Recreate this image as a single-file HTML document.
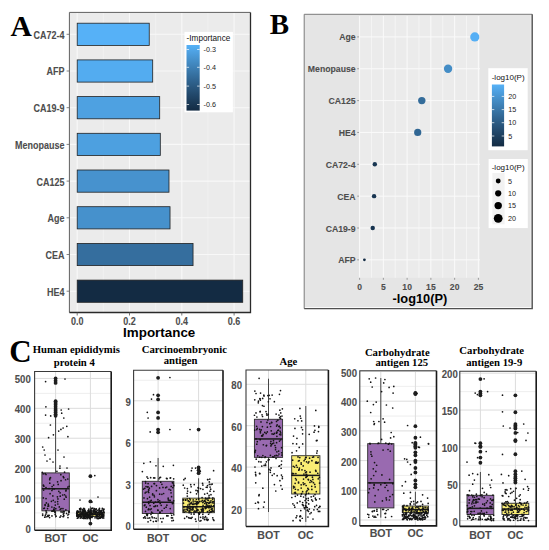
<!DOCTYPE html>
<html><head><meta charset="utf-8"><style>
html,body{margin:0;padding:0;background:#fff;width:549px;height:550px;overflow:hidden}
svg{display:block}
</style></head><body>
<svg width="549" height="550" viewBox="0 0 549 550">
<rect x="69.4" y="12.4" width="181.1" height="300.1" fill="#ebebeb" stroke="none" stroke-width="0" />
<line x1="103.35" y1="12.4" x2="103.35" y2="312.5" stroke="#f2f2f2" stroke-width="0.7"/>
<line x1="155.65" y1="12.4" x2="155.65" y2="312.5" stroke="#f2f2f2" stroke-width="0.7"/>
<line x1="207.95" y1="12.4" x2="207.95" y2="312.5" stroke="#f2f2f2" stroke-width="0.7"/>
<line x1="77.2" y1="12.4" x2="77.2" y2="312.5" stroke="#f8f8f8" stroke-width="1.1"/>
<line x1="129.5" y1="12.4" x2="129.5" y2="312.5" stroke="#f8f8f8" stroke-width="1.1"/>
<line x1="181.8" y1="12.4" x2="181.8" y2="312.5" stroke="#f8f8f8" stroke-width="1.1"/>
<line x1="234.1" y1="12.4" x2="234.1" y2="312.5" stroke="#f8f8f8" stroke-width="1.1"/>
<line x1="69.4" y1="34.3" x2="250.5" y2="34.3" stroke="#f8f8f8" stroke-width="1.1"/>
<line x1="69.4" y1="71" x2="250.5" y2="71" stroke="#f8f8f8" stroke-width="1.1"/>
<line x1="69.4" y1="107.7" x2="250.5" y2="107.7" stroke="#f8f8f8" stroke-width="1.1"/>
<line x1="69.4" y1="144.4" x2="250.5" y2="144.4" stroke="#f8f8f8" stroke-width="1.1"/>
<line x1="69.4" y1="181.1" x2="250.5" y2="181.1" stroke="#f8f8f8" stroke-width="1.1"/>
<line x1="69.4" y1="217.8" x2="250.5" y2="217.8" stroke="#f8f8f8" stroke-width="1.1"/>
<line x1="69.4" y1="254.5" x2="250.5" y2="254.5" stroke="#f8f8f8" stroke-width="1.1"/>
<line x1="69.4" y1="291.2" x2="250.5" y2="291.2" stroke="#f8f8f8" stroke-width="1.1"/>
<rect x="77.2" y="23.2" width="72.04" height="22.2" fill="#56b1f7" stroke="#222" stroke-width="0.8" />
<text transform="translate(64.6 38.7) scale(1 1.12)" font-size="9.0" text-anchor="end" font-weight="bold" fill="#4d4d4d" font-family='"Liberation Sans", sans-serif' stroke="#4d4d4d" stroke-width="0.08">CA72-4</text>
<line x1="66.6" y1="34.3" x2="69.4" y2="34.3" stroke="#777" stroke-width="0.9"/>
<rect x="77.2" y="59.9" width="75.5" height="22.2" fill="#53acf0" stroke="#222" stroke-width="0.8" />
<text transform="translate(64.6 75.4) scale(1 1.12)" font-size="9.0" text-anchor="end" font-weight="bold" fill="#4d4d4d" font-family='"Liberation Sans", sans-serif' stroke="#4d4d4d" stroke-width="0.08">AFP</text>
<line x1="66.6" y1="71" x2="69.4" y2="71" stroke="#777" stroke-width="0.9"/>
<rect x="77.2" y="96.6" width="82.5" height="22.2" fill="#4ea1e1" stroke="#222" stroke-width="0.8" />
<text transform="translate(64.6 112.1) scale(1 1.12)" font-size="9.0" text-anchor="end" font-weight="bold" fill="#4d4d4d" font-family='"Liberation Sans", sans-serif' stroke="#4d4d4d" stroke-width="0.08">CA19-9</text>
<line x1="66.6" y1="107.7" x2="69.4" y2="107.7" stroke="#777" stroke-width="0.9"/>
<rect x="77.2" y="133.3" width="83.1" height="22.2" fill="#4da0e0" stroke="#222" stroke-width="0.8" />
<text transform="translate(64.6 148.8) scale(1 1.12)" font-size="9.0" text-anchor="end" font-weight="bold" fill="#4d4d4d" font-family='"Liberation Sans", sans-serif' stroke="#4d4d4d" stroke-width="0.08">Menopause</text>
<line x1="66.6" y1="144.4" x2="69.4" y2="144.4" stroke="#777" stroke-width="0.9"/>
<rect x="77.2" y="170" width="91.79" height="22.2" fill="#4792ce" stroke="#222" stroke-width="0.8" />
<text transform="translate(64.6 185.5) scale(1 1.12)" font-size="9.0" text-anchor="end" font-weight="bold" fill="#4d4d4d" font-family='"Liberation Sans", sans-serif' stroke="#4d4d4d" stroke-width="0.08">CA125</text>
<line x1="66.6" y1="181.1" x2="69.4" y2="181.1" stroke="#777" stroke-width="0.9"/>
<rect x="77.2" y="206.7" width="92.83" height="22.2" fill="#4691cc" stroke="#222" stroke-width="0.8" />
<text transform="translate(64.6 222.2) scale(1 1.12)" font-size="9.0" text-anchor="end" font-weight="bold" fill="#4d4d4d" font-family='"Liberation Sans", sans-serif' stroke="#4d4d4d" stroke-width="0.08">Age</text>
<line x1="66.6" y1="217.8" x2="69.4" y2="217.8" stroke="#777" stroke-width="0.9"/>
<rect x="77.2" y="243.4" width="115.84" height="22.2" fill="#356e9e" stroke="#222" stroke-width="0.8" />
<text transform="translate(64.6 258.9) scale(1 1.12)" font-size="9.0" text-anchor="end" font-weight="bold" fill="#4d4d4d" font-family='"Liberation Sans", sans-serif' stroke="#4d4d4d" stroke-width="0.08">CEA</text>
<line x1="66.6" y1="254.5" x2="69.4" y2="254.5" stroke="#777" stroke-width="0.9"/>
<rect x="77.2" y="280.1" width="165.53" height="22.2" fill="#132b43" stroke="#222" stroke-width="0.8" />
<text transform="translate(64.6 295.6) scale(1 1.12)" font-size="9.0" text-anchor="end" font-weight="bold" fill="#4d4d4d" font-family='"Liberation Sans", sans-serif' stroke="#4d4d4d" stroke-width="0.08">HE4</text>
<line x1="66.6" y1="291.2" x2="69.4" y2="291.2" stroke="#777" stroke-width="0.9"/>
<path d="M69.4 312.5 V12.4 H250.5" fill="none" stroke="#606060" stroke-width="1"/>
<path d="M250.5 12.4 V312.5 H69.4" fill="none" stroke="#2a2a2a" stroke-width="1.3"/>
<line x1="77.2" y1="312.5" x2="77.2" y2="315.5" stroke="#555" stroke-width="0.8"/>
<text transform="translate(77.2 324.9) scale(1 1.12)" font-size="9.0" text-anchor="middle" font-weight="bold" fill="#4d4d4d" font-family='"Liberation Sans", sans-serif' stroke="#4d4d4d" stroke-width="0.08">0.0</text>
<line x1="129.5" y1="312.5" x2="129.5" y2="315.5" stroke="#555" stroke-width="0.8"/>
<text transform="translate(129.5 324.9) scale(1 1.12)" font-size="9.0" text-anchor="middle" font-weight="bold" fill="#4d4d4d" font-family='"Liberation Sans", sans-serif' stroke="#4d4d4d" stroke-width="0.08">0.2</text>
<line x1="181.8" y1="312.5" x2="181.8" y2="315.5" stroke="#555" stroke-width="0.8"/>
<text transform="translate(181.8 324.9) scale(1 1.12)" font-size="9.0" text-anchor="middle" font-weight="bold" fill="#4d4d4d" font-family='"Liberation Sans", sans-serif' stroke="#4d4d4d" stroke-width="0.08">0.4</text>
<line x1="234.1" y1="312.5" x2="234.1" y2="315.5" stroke="#555" stroke-width="0.8"/>
<text transform="translate(234.1 324.9) scale(1 1.12)" font-size="9.0" text-anchor="middle" font-weight="bold" fill="#4d4d4d" font-family='"Liberation Sans", sans-serif' stroke="#4d4d4d" stroke-width="0.08">0.6</text>
<text x="159.2" y="337.4" font-size="13.4" text-anchor="middle" font-weight="bold" fill="#000" font-family='"Liberation Sans", sans-serif' >Importance</text>
<rect x="184.5" y="31.9" width="48.4" height="80.4" fill="#ffffff" stroke="none" stroke-width="0" />
<text x="186.6" y="40.6" font-size="8.2" text-anchor="start" font-weight="normal" fill="#111" font-family='"Liberation Sans", sans-serif' >-Importance</text>
<defs><linearGradient id="gA" x1="0" y1="0" x2="0" y2="1"><stop offset="0.00" stop-color="#56b1f7"/><stop offset="0.05" stop-color="#52aaed"/><stop offset="0.10" stop-color="#4fa2e3"/><stop offset="0.15" stop-color="#4b9bda"/><stop offset="0.20" stop-color="#4894d0"/><stop offset="0.25" stop-color="#448dc6"/><stop offset="0.30" stop-color="#4186bd"/><stop offset="0.35" stop-color="#3d7fb4"/><stop offset="0.40" stop-color="#3a78aa"/><stop offset="0.45" stop-color="#3671a1"/><stop offset="0.50" stop-color="#336a98"/><stop offset="0.55" stop-color="#2f638f"/><stop offset="0.60" stop-color="#2c5d86"/><stop offset="0.65" stop-color="#29567d"/><stop offset="0.70" stop-color="#265075"/><stop offset="0.75" stop-color="#22496c"/><stop offset="0.80" stop-color="#1f4364"/><stop offset="0.85" stop-color="#1c3d5b"/><stop offset="0.90" stop-color="#193753"/><stop offset="0.95" stop-color="#16314b"/><stop offset="1.00" stop-color="#132b43"/></linearGradient><linearGradient id="gB" x1="0" y1="0" x2="0" y2="1"><stop offset="0.00" stop-color="#56b1f7"/><stop offset="0.05" stop-color="#52aaed"/><stop offset="0.10" stop-color="#4fa2e3"/><stop offset="0.15" stop-color="#4b9bda"/><stop offset="0.20" stop-color="#4894d0"/><stop offset="0.25" stop-color="#448dc6"/><stop offset="0.30" stop-color="#4186bd"/><stop offset="0.35" stop-color="#3d7fb4"/><stop offset="0.40" stop-color="#3a78aa"/><stop offset="0.45" stop-color="#3671a1"/><stop offset="0.50" stop-color="#336a98"/><stop offset="0.55" stop-color="#2f638f"/><stop offset="0.60" stop-color="#2c5d86"/><stop offset="0.65" stop-color="#29567d"/><stop offset="0.70" stop-color="#265075"/><stop offset="0.75" stop-color="#22496c"/><stop offset="0.80" stop-color="#1f4364"/><stop offset="0.85" stop-color="#1c3d5b"/><stop offset="0.90" stop-color="#193753"/><stop offset="0.95" stop-color="#16314b"/><stop offset="1.00" stop-color="#132b43"/></linearGradient></defs>
<rect x="186.5" y="45" width="13.2" height="65.6" fill="url(#gA)" stroke="none" stroke-width="0" />
<line x1="186.5" y1="49.5" x2="189.1" y2="49.5" stroke="#fff" stroke-width="0.7"/>
<line x1="197.1" y1="49.5" x2="199.7" y2="49.5" stroke="#fff" stroke-width="0.7"/>
<text x="203.6" y="52.1" font-size="7.2" text-anchor="start" font-weight="normal" fill="#222" font-family='"Liberation Sans", sans-serif' >-0.3</text>
<line x1="186.5" y1="67.3" x2="189.1" y2="67.3" stroke="#fff" stroke-width="0.7"/>
<line x1="197.1" y1="67.3" x2="199.7" y2="67.3" stroke="#fff" stroke-width="0.7"/>
<text x="203.6" y="69.9" font-size="7.2" text-anchor="start" font-weight="normal" fill="#222" font-family='"Liberation Sans", sans-serif' >-0.4</text>
<line x1="186.5" y1="86.1" x2="189.1" y2="86.1" stroke="#fff" stroke-width="0.7"/>
<line x1="197.1" y1="86.1" x2="199.7" y2="86.1" stroke="#fff" stroke-width="0.7"/>
<text x="203.6" y="88.7" font-size="7.2" text-anchor="start" font-weight="normal" fill="#222" font-family='"Liberation Sans", sans-serif' >-0.5</text>
<line x1="186.5" y1="104.5" x2="189.1" y2="104.5" stroke="#fff" stroke-width="0.7"/>
<line x1="197.1" y1="104.5" x2="199.7" y2="104.5" stroke="#fff" stroke-width="0.7"/>
<text x="203.6" y="107.1" font-size="7.2" text-anchor="start" font-weight="normal" fill="#222" font-family='"Liberation Sans", sans-serif' >-0.6</text>
<text x="10.6" y="36.3" font-size="29.5" text-anchor="start" font-weight="bold" fill="#000" font-family='"Liberation Serif", serif' >A</text>
<rect x="304.2" y="14.3" width="228" height="294.3" fill="#e5e5e5" stroke="none" stroke-width="0" />
<rect x="358.8" y="16" width="121.2" height="261.8" fill="#ebebeb" stroke="none" stroke-width="0" />
<line x1="371.48" y1="16" x2="371.48" y2="277.8" stroke="#f6f6f6" stroke-width="0.8"/>
<line x1="395.24" y1="16" x2="395.24" y2="277.8" stroke="#f6f6f6" stroke-width="0.8"/>
<line x1="419" y1="16" x2="419" y2="277.8" stroke="#f6f6f6" stroke-width="0.8"/>
<line x1="442.76" y1="16" x2="442.76" y2="277.8" stroke="#f6f6f6" stroke-width="0.8"/>
<line x1="466.52" y1="16" x2="466.52" y2="277.8" stroke="#f6f6f6" stroke-width="0.8"/>
<line x1="359.6" y1="16" x2="359.6" y2="277.8" stroke="#fafafa" stroke-width="1.0"/>
<line x1="383.36" y1="16" x2="383.36" y2="277.8" stroke="#fafafa" stroke-width="1.0"/>
<line x1="407.12" y1="16" x2="407.12" y2="277.8" stroke="#fafafa" stroke-width="1.0"/>
<line x1="430.88" y1="16" x2="430.88" y2="277.8" stroke="#fafafa" stroke-width="1.0"/>
<line x1="454.64" y1="16" x2="454.64" y2="277.8" stroke="#fafafa" stroke-width="1.0"/>
<line x1="478.4" y1="16" x2="478.4" y2="277.8" stroke="#fafafa" stroke-width="1.0"/>
<line x1="358.8" y1="36.9" x2="480" y2="36.9" stroke="#fafafa" stroke-width="1.0"/>
<line x1="358.8" y1="68.75" x2="480" y2="68.75" stroke="#fafafa" stroke-width="1.0"/>
<line x1="358.8" y1="100.6" x2="480" y2="100.6" stroke="#fafafa" stroke-width="1.0"/>
<line x1="358.8" y1="132.45" x2="480" y2="132.45" stroke="#fafafa" stroke-width="1.0"/>
<line x1="358.8" y1="164.3" x2="480" y2="164.3" stroke="#fafafa" stroke-width="1.0"/>
<line x1="358.8" y1="196.15" x2="480" y2="196.15" stroke="#fafafa" stroke-width="1.0"/>
<line x1="358.8" y1="228" x2="480" y2="228" stroke="#fafafa" stroke-width="1.0"/>
<line x1="358.8" y1="259.85" x2="480" y2="259.85" stroke="#fafafa" stroke-width="1.0"/>
<circle cx="474.79" cy="36.9" r="4.6" fill="#55aff5"/>
<text transform="translate(355.6 40.4) scale(1 1.1)" font-size="8.7" text-anchor="end" font-weight="bold" fill="#4d4d4d" font-family='"Liberation Sans", sans-serif' stroke="#4d4d4d" stroke-width="0.08">Age</text>
<line x1="357.2" y1="36.9" x2="359" y2="36.9" stroke="#888" stroke-width="0.8"/>
<circle cx="448.08" cy="68.75" r="4.2" fill="#448dc6"/>
<text transform="translate(355.6 72.25) scale(1 1.1)" font-size="8.7" text-anchor="end" font-weight="bold" fill="#4d4d4d" font-family='"Liberation Sans", sans-serif' stroke="#4d4d4d" stroke-width="0.08">Menopause</text>
<line x1="357.2" y1="68.75" x2="359" y2="68.75" stroke="#888" stroke-width="0.8"/>
<circle cx="421.8" cy="100.6" r="3.7" fill="#346c9a"/>
<text transform="translate(355.6 104.1) scale(1 1.1)" font-size="8.7" text-anchor="end" font-weight="bold" fill="#4d4d4d" font-family='"Liberation Sans", sans-serif' stroke="#4d4d4d" stroke-width="0.08">CA125</text>
<line x1="357.2" y1="100.6" x2="359" y2="100.6" stroke="#888" stroke-width="0.8"/>
<circle cx="417.72" cy="132.45" r="3.6" fill="#316794"/>
<text transform="translate(355.6 135.95) scale(1 1.1)" font-size="8.7" text-anchor="end" font-weight="bold" fill="#4d4d4d" font-family='"Liberation Sans", sans-serif' stroke="#4d4d4d" stroke-width="0.08">HE4</text>
<line x1="357.2" y1="132.45" x2="359" y2="132.45" stroke="#888" stroke-width="0.8"/>
<circle cx="374.81" cy="164.3" r="2.2" fill="#183652"/>
<text transform="translate(355.6 167.8) scale(1 1.1)" font-size="8.7" text-anchor="end" font-weight="bold" fill="#4d4d4d" font-family='"Liberation Sans", sans-serif' stroke="#4d4d4d" stroke-width="0.08">CA72-4</text>
<line x1="357.2" y1="164.3" x2="359" y2="164.3" stroke="#888" stroke-width="0.8"/>
<circle cx="374.09" cy="196.15" r="2.2" fill="#183551"/>
<text transform="translate(355.6 199.65) scale(1 1.1)" font-size="8.7" text-anchor="end" font-weight="bold" fill="#4d4d4d" font-family='"Liberation Sans", sans-serif' stroke="#4d4d4d" stroke-width="0.08">CEA</text>
<line x1="357.2" y1="196.15" x2="359" y2="196.15" stroke="#888" stroke-width="0.8"/>
<circle cx="372.72" cy="228" r="2.2" fill="#17344f"/>
<text transform="translate(355.6 231.5) scale(1 1.1)" font-size="8.7" text-anchor="end" font-weight="bold" fill="#4d4d4d" font-family='"Liberation Sans", sans-serif' stroke="#4d4d4d" stroke-width="0.08">CA19-9</text>
<line x1="357.2" y1="228" x2="359" y2="228" stroke="#888" stroke-width="0.8"/>
<circle cx="364.4" cy="259.85" r="1.4" fill="#132b43"/>
<text transform="translate(355.6 263.35) scale(1 1.1)" font-size="8.7" text-anchor="end" font-weight="bold" fill="#4d4d4d" font-family='"Liberation Sans", sans-serif' stroke="#4d4d4d" stroke-width="0.08">AFP</text>
<line x1="357.2" y1="259.85" x2="359" y2="259.85" stroke="#888" stroke-width="0.8"/>
<line x1="359.6" y1="277.8" x2="359.6" y2="279.8" stroke="#888" stroke-width="0.8"/>
<text transform="translate(359.6 289.9) scale(1 1.1)" font-size="8.6" text-anchor="middle" font-weight="bold" fill="#4d4d4d" font-family='"Liberation Sans", sans-serif' stroke="#4d4d4d" stroke-width="0.08">0</text>
<line x1="383.36" y1="277.8" x2="383.36" y2="279.8" stroke="#888" stroke-width="0.8"/>
<text transform="translate(383.36 289.9) scale(1 1.1)" font-size="8.6" text-anchor="middle" font-weight="bold" fill="#4d4d4d" font-family='"Liberation Sans", sans-serif' stroke="#4d4d4d" stroke-width="0.08">5</text>
<line x1="407.12" y1="277.8" x2="407.12" y2="279.8" stroke="#888" stroke-width="0.8"/>
<text transform="translate(407.12 289.9) scale(1 1.1)" font-size="8.6" text-anchor="middle" font-weight="bold" fill="#4d4d4d" font-family='"Liberation Sans", sans-serif' stroke="#4d4d4d" stroke-width="0.08">10</text>
<line x1="430.88" y1="277.8" x2="430.88" y2="279.8" stroke="#888" stroke-width="0.8"/>
<text transform="translate(430.88 289.9) scale(1 1.1)" font-size="8.6" text-anchor="middle" font-weight="bold" fill="#4d4d4d" font-family='"Liberation Sans", sans-serif' stroke="#4d4d4d" stroke-width="0.08">15</text>
<line x1="454.64" y1="277.8" x2="454.64" y2="279.8" stroke="#888" stroke-width="0.8"/>
<text transform="translate(454.64 289.9) scale(1 1.1)" font-size="8.6" text-anchor="middle" font-weight="bold" fill="#4d4d4d" font-family='"Liberation Sans", sans-serif' stroke="#4d4d4d" stroke-width="0.08">20</text>
<line x1="478.4" y1="277.8" x2="478.4" y2="279.8" stroke="#888" stroke-width="0.8"/>
<text transform="translate(478.4 289.9) scale(1 1.1)" font-size="8.6" text-anchor="middle" font-weight="bold" fill="#4d4d4d" font-family='"Liberation Sans", sans-serif' stroke="#4d4d4d" stroke-width="0.08">25</text>
<text x="419.9" y="302.7" font-size="12.8" text-anchor="middle" font-weight="bold" fill="#000" font-family='"Liberation Sans", sans-serif' >-log10(P)</text>
<path d="M304.2 308.6 V14.3 H532.2" fill="none" stroke="#7a7a7a" stroke-width="1"/>
<path d="M531.2 15 V307.5 H305" fill="none" stroke="#ffffff" stroke-width="0.8"/>
<path d="M532.2 14.3 V308.6 H304.2" fill="none" stroke="#505050" stroke-width="1.4"/>
<rect x="488.3" y="68.2" width="39.4" height="82" fill="#ffffff" stroke="none" stroke-width="0" />
<text x="491.7" y="80" font-size="8.0" text-anchor="start" font-weight="normal" fill="#111" font-family='"Liberation Sans", sans-serif' >-log10(P)</text>
<rect x="491.9" y="84.5" width="12.2" height="61.9" fill="url(#gB)" stroke="none" stroke-width="0" />
<line x1="491.9" y1="96.4" x2="494.3" y2="96.4" stroke="#fff" stroke-width="0.7"/>
<line x1="501.7" y1="96.4" x2="504.1" y2="96.4" stroke="#fff" stroke-width="0.7"/>
<text x="508.3" y="99" font-size="7.2" text-anchor="start" font-weight="normal" fill="#222" font-family='"Liberation Sans", sans-serif' >20</text>
<line x1="491.9" y1="109.6" x2="494.3" y2="109.6" stroke="#fff" stroke-width="0.7"/>
<line x1="501.7" y1="109.6" x2="504.1" y2="109.6" stroke="#fff" stroke-width="0.7"/>
<text x="508.3" y="112.2" font-size="7.2" text-anchor="start" font-weight="normal" fill="#222" font-family='"Liberation Sans", sans-serif' >15</text>
<line x1="491.9" y1="122.7" x2="494.3" y2="122.7" stroke="#fff" stroke-width="0.7"/>
<line x1="501.7" y1="122.7" x2="504.1" y2="122.7" stroke="#fff" stroke-width="0.7"/>
<text x="508.3" y="125.3" font-size="7.2" text-anchor="start" font-weight="normal" fill="#222" font-family='"Liberation Sans", sans-serif' >10</text>
<line x1="491.9" y1="136" x2="494.3" y2="136" stroke="#fff" stroke-width="0.7"/>
<line x1="501.7" y1="136" x2="504.1" y2="136" stroke="#fff" stroke-width="0.7"/>
<text x="508.3" y="138.6" font-size="7.2" text-anchor="start" font-weight="normal" fill="#222" font-family='"Liberation Sans", sans-serif' >5</text>
<rect x="488.6" y="159" width="39.2" height="69.1" fill="#ffffff" stroke="none" stroke-width="0" />
<text x="491.7" y="170.2" font-size="8.0" text-anchor="start" font-weight="normal" fill="#111" font-family='"Liberation Sans", sans-serif' >-log10(P)</text>
<rect x="492.4" y="173" width="12.2" height="51.3" fill="#f2f2f2" stroke="none" stroke-width="0" />
<circle cx="498.2" cy="181" r="2.45" fill="#000"/>
<text x="507.9" y="183.6" font-size="7.2" text-anchor="start" font-weight="normal" fill="#222" font-family='"Liberation Sans", sans-serif' >5</text>
<circle cx="498.2" cy="193.3" r="3.1" fill="#000"/>
<text x="507.9" y="195.9" font-size="7.2" text-anchor="start" font-weight="normal" fill="#222" font-family='"Liberation Sans", sans-serif' >10</text>
<circle cx="498.2" cy="205.6" r="3.7" fill="#000"/>
<text x="507.9" y="208.2" font-size="7.2" text-anchor="start" font-weight="normal" fill="#222" font-family='"Liberation Sans", sans-serif' >15</text>
<circle cx="498.2" cy="218.3" r="4.4" fill="#000"/>
<text x="507.9" y="220.9" font-size="7.2" text-anchor="start" font-weight="normal" fill="#222" font-family='"Liberation Sans", sans-serif' >20</text>
<text x="269.8" y="34" font-size="29" text-anchor="start" font-weight="bold" fill="#000" font-family='"Liberation Serif", serif' >B</text>
<rect x="34.6" y="371.5" width="76.6" height="158.8" fill="#ffffff" stroke="none" stroke-width="0" />
<line x1="34.6" y1="512.95" x2="111.2" y2="512.95" stroke="#e6e6e6" stroke-width="0.7"/>
<line x1="34.6" y1="483.06" x2="111.2" y2="483.06" stroke="#e6e6e6" stroke-width="0.7"/>
<line x1="34.6" y1="453.17" x2="111.2" y2="453.17" stroke="#e6e6e6" stroke-width="0.7"/>
<line x1="34.6" y1="423.28" x2="111.2" y2="423.28" stroke="#e6e6e6" stroke-width="0.7"/>
<line x1="34.6" y1="393.39" x2="111.2" y2="393.39" stroke="#e6e6e6" stroke-width="0.7"/>
<line x1="34.6" y1="527.9" x2="111.2" y2="527.9" stroke="#dcdcdc" stroke-width="1.0"/>
<line x1="34.6" y1="498.01" x2="111.2" y2="498.01" stroke="#dcdcdc" stroke-width="1.0"/>
<line x1="34.6" y1="468.12" x2="111.2" y2="468.12" stroke="#dcdcdc" stroke-width="1.0"/>
<line x1="34.6" y1="438.23" x2="111.2" y2="438.23" stroke="#dcdcdc" stroke-width="1.0"/>
<line x1="34.6" y1="408.34" x2="111.2" y2="408.34" stroke="#dcdcdc" stroke-width="1.0"/>
<line x1="34.6" y1="378.45" x2="111.2" y2="378.45" stroke="#dcdcdc" stroke-width="1.0"/>
<line x1="55.6" y1="371.5" x2="55.6" y2="530.3" stroke="#dcdcdc" stroke-width="1.0"/>
<line x1="90.4" y1="371.5" x2="90.4" y2="530.3" stroke="#dcdcdc" stroke-width="1.0"/>
<line x1="55.6" y1="472.9" x2="55.6" y2="417.01" stroke="#333" stroke-width="0.9"/>
<line x1="55.6" y1="510.86" x2="55.6" y2="517.74" stroke="#333" stroke-width="0.9"/>
<rect x="41.9" y="472.9" width="27.4" height="37.96" fill="#996ab0" stroke="#2a2a2a" stroke-width="0.9" />
<line x1="41.9" y1="488.74" x2="69.3" y2="488.74" stroke="#1a1a1a" stroke-width="1.5"/>
<circle cx="55.6" cy="415.81" r="1.9" fill="#1e1e1e"/>
<circle cx="55.6" cy="414.32" r="1.9" fill="#1e1e1e"/>
<circle cx="55.6" cy="412.52" r="1.9" fill="#1e1e1e"/>
<circle cx="55.6" cy="410.73" r="1.9" fill="#1e1e1e"/>
<circle cx="55.6" cy="408.94" r="1.9" fill="#1e1e1e"/>
<circle cx="55.6" cy="406.85" r="1.9" fill="#1e1e1e"/>
<circle cx="55.6" cy="404.75" r="1.9" fill="#1e1e1e"/>
<circle cx="55.6" cy="402.96" r="1.9" fill="#1e1e1e"/>
<circle cx="55.6" cy="401.17" r="1.9" fill="#1e1e1e"/>
<circle cx="55.6" cy="382.93" r="1.9" fill="#1e1e1e"/>
<circle cx="55.6" cy="380.84" r="1.9" fill="#1e1e1e"/>
<circle cx="55.6" cy="378.45" r="1.9" fill="#1e1e1e"/>
<line x1="90.4" y1="512.36" x2="90.4" y2="506.38" stroke="#333" stroke-width="0.9"/>
<line x1="90.4" y1="516.54" x2="90.4" y2="521.92" stroke="#333" stroke-width="0.9"/>
<rect x="76.7" y="512.36" width="27.4" height="4.18" fill="#f9ed74" stroke="#2a2a2a" stroke-width="0.9" />
<line x1="76.7" y1="514.45" x2="104.1" y2="514.45" stroke="#1a1a1a" stroke-width="1.5"/>
<circle cx="90.4" cy="476.19" r="1.9" fill="#1e1e1e"/>
<circle cx="90.4" cy="501.45" r="1.9" fill="#1e1e1e"/>
<circle cx="90.4" cy="523.54" r="1.9" fill="#1e1e1e"/>
<circle cx="46.03" cy="498.57" r="0.85" fill="#141414"/>
<circle cx="43.88" cy="486.15" r="0.85" fill="#141414"/>
<circle cx="51.92" cy="490.52" r="0.85" fill="#141414"/>
<circle cx="55.8" cy="508.66" r="0.85" fill="#141414"/>
<circle cx="53.78" cy="509.44" r="0.85" fill="#141414"/>
<circle cx="44.39" cy="508.21" r="0.85" fill="#141414"/>
<circle cx="64.56" cy="494.75" r="0.85" fill="#141414"/>
<circle cx="48.02" cy="506.16" r="0.85" fill="#141414"/>
<circle cx="67.87" cy="487.05" r="0.85" fill="#141414"/>
<circle cx="52.77" cy="488.96" r="0.85" fill="#141414"/>
<circle cx="43.18" cy="473.8" r="0.85" fill="#141414"/>
<circle cx="49.84" cy="478.27" r="0.85" fill="#141414"/>
<circle cx="45.13" cy="505.39" r="0.85" fill="#141414"/>
<circle cx="64.26" cy="499.15" r="0.85" fill="#141414"/>
<circle cx="57.84" cy="504" r="0.85" fill="#141414"/>
<circle cx="52.1" cy="486.61" r="0.85" fill="#141414"/>
<circle cx="43.62" cy="490.07" r="0.85" fill="#141414"/>
<circle cx="47.54" cy="508.6" r="0.85" fill="#141414"/>
<circle cx="53.62" cy="485.03" r="0.85" fill="#141414"/>
<circle cx="57.94" cy="498.94" r="0.85" fill="#141414"/>
<circle cx="50.11" cy="493.66" r="0.85" fill="#141414"/>
<circle cx="61.05" cy="480.71" r="0.85" fill="#141414"/>
<circle cx="57.64" cy="501.6" r="0.85" fill="#141414"/>
<circle cx="65.88" cy="490.93" r="0.85" fill="#141414"/>
<circle cx="49.79" cy="483.17" r="0.85" fill="#141414"/>
<circle cx="45.14" cy="473.65" r="0.85" fill="#141414"/>
<circle cx="62.65" cy="494.99" r="0.85" fill="#141414"/>
<circle cx="55.3" cy="505.09" r="0.85" fill="#141414"/>
<circle cx="60.21" cy="509.37" r="0.85" fill="#141414"/>
<circle cx="57.6" cy="481.84" r="0.85" fill="#141414"/>
<circle cx="50.5" cy="477.63" r="0.85" fill="#141414"/>
<circle cx="58.19" cy="484.47" r="0.85" fill="#141414"/>
<circle cx="54.4" cy="488.85" r="0.85" fill="#141414"/>
<circle cx="67.78" cy="478.98" r="0.85" fill="#141414"/>
<circle cx="60.1" cy="492.87" r="0.85" fill="#141414"/>
<circle cx="61.12" cy="508.56" r="0.85" fill="#141414"/>
<circle cx="69.11" cy="486.3" r="0.85" fill="#141414"/>
<circle cx="49.7" cy="479.66" r="0.85" fill="#141414"/>
<circle cx="60.22" cy="496.22" r="0.85" fill="#141414"/>
<circle cx="54.55" cy="510.01" r="0.85" fill="#141414"/>
<circle cx="45.11" cy="504.48" r="0.85" fill="#141414"/>
<circle cx="62.95" cy="508.62" r="0.85" fill="#141414"/>
<circle cx="48.68" cy="505.95" r="0.85" fill="#141414"/>
<circle cx="65.78" cy="496.02" r="0.85" fill="#141414"/>
<circle cx="54.21" cy="507.8" r="0.85" fill="#141414"/>
<circle cx="66.1" cy="490.01" r="0.85" fill="#141414"/>
<circle cx="65.57" cy="479.76" r="0.85" fill="#141414"/>
<circle cx="53.28" cy="500.29" r="0.85" fill="#141414"/>
<circle cx="66.13" cy="497.24" r="0.85" fill="#141414"/>
<circle cx="46.04" cy="474.51" r="0.85" fill="#141414"/>
<circle cx="48.26" cy="504.17" r="0.85" fill="#141414"/>
<circle cx="55.19" cy="502.01" r="0.85" fill="#141414"/>
<circle cx="49.1" cy="488.5" r="0.85" fill="#141414"/>
<circle cx="53.38" cy="510.71" r="0.85" fill="#141414"/>
<circle cx="57.42" cy="496.85" r="0.85" fill="#141414"/>
<circle cx="60.82" cy="474.68" r="0.85" fill="#141414"/>
<circle cx="58.82" cy="491.29" r="0.85" fill="#141414"/>
<circle cx="43.38" cy="485.19" r="0.85" fill="#141414"/>
<circle cx="63.27" cy="476.72" r="0.85" fill="#141414"/>
<circle cx="63.76" cy="477.67" r="0.85" fill="#141414"/>
<circle cx="52.83" cy="495.97" r="0.85" fill="#141414"/>
<circle cx="59.28" cy="506.93" r="0.85" fill="#141414"/>
<circle cx="43.75" cy="508.5" r="0.85" fill="#141414"/>
<circle cx="46.35" cy="502.94" r="0.85" fill="#141414"/>
<circle cx="43.34" cy="497.95" r="0.85" fill="#141414"/>
<circle cx="46.04" cy="510.85" r="0.85" fill="#141414"/>
<circle cx="51.86" cy="507.01" r="0.85" fill="#141414"/>
<circle cx="65.86" cy="509.89" r="0.85" fill="#141414"/>
<circle cx="45.97" cy="487.55" r="0.85" fill="#141414"/>
<circle cx="51.42" cy="501.29" r="0.85" fill="#141414"/>
<circle cx="45.27" cy="515.23" r="0.85" fill="#141414"/>
<circle cx="69.11" cy="511.9" r="0.85" fill="#141414"/>
<circle cx="55.16" cy="514.53" r="0.85" fill="#141414"/>
<circle cx="44.7" cy="517.15" r="0.85" fill="#141414"/>
<circle cx="49.15" cy="515.38" r="0.85" fill="#141414"/>
<circle cx="46.32" cy="512.04" r="0.85" fill="#141414"/>
<circle cx="67.96" cy="517.58" r="0.85" fill="#141414"/>
<circle cx="45.92" cy="514.11" r="0.85" fill="#141414"/>
<circle cx="42.64" cy="514" r="0.85" fill="#141414"/>
<circle cx="68.71" cy="514.11" r="0.85" fill="#141414"/>
<circle cx="60.98" cy="511.8" r="0.85" fill="#141414"/>
<circle cx="51.95" cy="515.94" r="0.85" fill="#141414"/>
<circle cx="63.05" cy="516.59" r="0.85" fill="#141414"/>
<circle cx="63.25" cy="514.08" r="0.85" fill="#141414"/>
<circle cx="48.01" cy="515.47" r="0.85" fill="#141414"/>
<circle cx="68.89" cy="512.16" r="0.85" fill="#141414"/>
<circle cx="63.99" cy="511.88" r="0.85" fill="#141414"/>
<circle cx="62.17" cy="512.11" r="0.85" fill="#141414"/>
<circle cx="56.08" cy="516.18" r="0.85" fill="#141414"/>
<circle cx="42.69" cy="515.29" r="0.85" fill="#141414"/>
<circle cx="49.56" cy="517.55" r="0.85" fill="#141414"/>
<circle cx="60.88" cy="515.96" r="0.85" fill="#141414"/>
<circle cx="54.15" cy="511.16" r="0.85" fill="#141414"/>
<circle cx="68.97" cy="511.3" r="0.85" fill="#141414"/>
<circle cx="51.89" cy="511.17" r="0.85" fill="#141414"/>
<circle cx="48.12" cy="516.22" r="0.85" fill="#141414"/>
<circle cx="47.5" cy="516.39" r="0.85" fill="#141414"/>
<circle cx="66.57" cy="513.45" r="0.85" fill="#141414"/>
<circle cx="55.04" cy="511.96" r="0.85" fill="#141414"/>
<circle cx="63.81" cy="513.25" r="0.85" fill="#141414"/>
<circle cx="60" cy="517.15" r="0.85" fill="#141414"/>
<circle cx="63.34" cy="511.48" r="0.85" fill="#141414"/>
<circle cx="55" cy="512.58" r="0.85" fill="#141414"/>
<circle cx="63.52" cy="516.51" r="0.85" fill="#141414"/>
<circle cx="63.84" cy="515.45" r="0.85" fill="#141414"/>
<circle cx="52.75" cy="511.06" r="0.85" fill="#141414"/>
<circle cx="67.84" cy="514.98" r="0.85" fill="#141414"/>
<circle cx="46.56" cy="512.75" r="0.85" fill="#141414"/>
<circle cx="46.04" cy="516.86" r="0.85" fill="#141414"/>
<circle cx="64" cy="511.52" r="0.85" fill="#141414"/>
<circle cx="64.55" cy="472.2" r="0.85" fill="#141414"/>
<circle cx="59.91" cy="468.21" r="0.85" fill="#141414"/>
<circle cx="56.93" cy="471.23" r="0.85" fill="#141414"/>
<circle cx="42.29" cy="472.28" r="0.85" fill="#141414"/>
<circle cx="45.6" cy="381.6" r="0.85" fill="#141414"/>
<circle cx="65" cy="379" r="0.85" fill="#141414"/>
<circle cx="45.9" cy="406.8" r="0.85" fill="#141414"/>
<circle cx="61.2" cy="410" r="0.85" fill="#141414"/>
<circle cx="68.6" cy="409" r="0.85" fill="#141414"/>
<circle cx="61.7" cy="413.2" r="0.85" fill="#141414"/>
<circle cx="45.6" cy="415.1" r="0.85" fill="#141414"/>
<circle cx="50.7" cy="415.9" r="0.85" fill="#141414"/>
<circle cx="63.8" cy="418" r="0.85" fill="#141414"/>
<circle cx="50.4" cy="425" r="0.85" fill="#141414"/>
<circle cx="66.8" cy="426.3" r="0.85" fill="#141414"/>
<circle cx="63.1" cy="428" r="0.85" fill="#141414"/>
<circle cx="60.9" cy="429.4" r="0.85" fill="#141414"/>
<circle cx="58.7" cy="431.1" r="0.85" fill="#141414"/>
<circle cx="53.4" cy="434.8" r="0.85" fill="#141414"/>
<circle cx="48.6" cy="437.7" r="0.85" fill="#141414"/>
<circle cx="67.9" cy="436.7" r="0.85" fill="#141414"/>
<circle cx="42.7" cy="447" r="0.85" fill="#141414"/>
<circle cx="44.2" cy="450" r="0.85" fill="#141414"/>
<circle cx="45" cy="455" r="0.85" fill="#141414"/>
<circle cx="50" cy="459" r="0.85" fill="#141414"/>
<circle cx="58" cy="450" r="0.85" fill="#141414"/>
<circle cx="64" cy="457" r="0.85" fill="#141414"/>
<circle cx="47" cy="461" r="0.85" fill="#141414"/>
<circle cx="53" cy="462" r="0.85" fill="#141414"/>
<circle cx="60" cy="466" r="0.85" fill="#141414"/>
<circle cx="67" cy="468" r="0.85" fill="#141414"/>
<circle cx="94.5" cy="508.48" r="0.85" fill="#141414"/>
<circle cx="102.28" cy="513.13" r="0.85" fill="#141414"/>
<circle cx="100.59" cy="514.1" r="0.85" fill="#141414"/>
<circle cx="82.48" cy="509.99" r="0.85" fill="#141414"/>
<circle cx="84.73" cy="516" r="0.85" fill="#141414"/>
<circle cx="92.77" cy="516.12" r="0.85" fill="#141414"/>
<circle cx="88.18" cy="515.92" r="0.85" fill="#141414"/>
<circle cx="101.63" cy="517.26" r="0.85" fill="#141414"/>
<circle cx="89.25" cy="514.93" r="0.85" fill="#141414"/>
<circle cx="101.48" cy="512.53" r="0.85" fill="#141414"/>
<circle cx="101.85" cy="514.23" r="0.85" fill="#141414"/>
<circle cx="91.27" cy="513.39" r="0.85" fill="#141414"/>
<circle cx="77.21" cy="513.16" r="0.85" fill="#141414"/>
<circle cx="81.72" cy="514.03" r="0.85" fill="#141414"/>
<circle cx="98.6" cy="518.59" r="0.85" fill="#141414"/>
<circle cx="89.67" cy="516.83" r="0.85" fill="#141414"/>
<circle cx="91.95" cy="511.05" r="0.85" fill="#141414"/>
<circle cx="90.9" cy="515.22" r="0.85" fill="#141414"/>
<circle cx="98.19" cy="512.82" r="0.85" fill="#141414"/>
<circle cx="92.05" cy="517.52" r="0.85" fill="#141414"/>
<circle cx="84.29" cy="516.03" r="0.85" fill="#141414"/>
<circle cx="90.61" cy="510.56" r="0.85" fill="#141414"/>
<circle cx="97.52" cy="512.76" r="0.85" fill="#141414"/>
<circle cx="88.85" cy="509.09" r="0.85" fill="#141414"/>
<circle cx="90.55" cy="512.23" r="0.85" fill="#141414"/>
<circle cx="95.68" cy="513.28" r="0.85" fill="#141414"/>
<circle cx="91.31" cy="513.9" r="0.85" fill="#141414"/>
<circle cx="102.5" cy="513.63" r="0.85" fill="#141414"/>
<circle cx="100.72" cy="511.32" r="0.85" fill="#141414"/>
<circle cx="83.81" cy="508.78" r="0.85" fill="#141414"/>
<circle cx="102.55" cy="512.78" r="0.85" fill="#141414"/>
<circle cx="80.46" cy="509.85" r="0.85" fill="#141414"/>
<circle cx="88.81" cy="517.36" r="0.85" fill="#141414"/>
<circle cx="83.29" cy="517.88" r="0.85" fill="#141414"/>
<circle cx="95.04" cy="517.87" r="0.85" fill="#141414"/>
<circle cx="101.28" cy="510.43" r="0.85" fill="#141414"/>
<circle cx="96.32" cy="517.02" r="0.85" fill="#141414"/>
<circle cx="80.62" cy="511.73" r="0.85" fill="#141414"/>
<circle cx="103.21" cy="509.4" r="0.85" fill="#141414"/>
<circle cx="102.8" cy="516.34" r="0.85" fill="#141414"/>
<circle cx="90.05" cy="514.47" r="0.85" fill="#141414"/>
<circle cx="99.51" cy="508.28" r="0.85" fill="#141414"/>
<circle cx="88.52" cy="516.94" r="0.85" fill="#141414"/>
<circle cx="85.99" cy="513.24" r="0.85" fill="#141414"/>
<circle cx="85.43" cy="516.59" r="0.85" fill="#141414"/>
<circle cx="77.23" cy="511.08" r="0.85" fill="#141414"/>
<circle cx="88.77" cy="512.84" r="0.85" fill="#141414"/>
<circle cx="85.78" cy="518.44" r="0.85" fill="#141414"/>
<circle cx="90.74" cy="512.11" r="0.85" fill="#141414"/>
<circle cx="103.69" cy="517.96" r="0.85" fill="#141414"/>
<circle cx="103.32" cy="510.39" r="0.85" fill="#141414"/>
<circle cx="83.98" cy="517.54" r="0.85" fill="#141414"/>
<circle cx="98.04" cy="518.22" r="0.85" fill="#141414"/>
<circle cx="80.25" cy="515.8" r="0.85" fill="#141414"/>
<circle cx="101.67" cy="514.22" r="0.85" fill="#141414"/>
<circle cx="83.79" cy="510.07" r="0.85" fill="#141414"/>
<circle cx="101.89" cy="517.07" r="0.85" fill="#141414"/>
<circle cx="95.89" cy="512.66" r="0.85" fill="#141414"/>
<circle cx="78.28" cy="517.7" r="0.85" fill="#141414"/>
<circle cx="88.35" cy="511.43" r="0.85" fill="#141414"/>
<circle cx="102.41" cy="517.88" r="0.85" fill="#141414"/>
<circle cx="98.66" cy="512" r="0.85" fill="#141414"/>
<circle cx="100.16" cy="517.76" r="0.85" fill="#141414"/>
<circle cx="100.34" cy="517.94" r="0.85" fill="#141414"/>
<circle cx="85.99" cy="513.89" r="0.85" fill="#141414"/>
<circle cx="102.09" cy="512.85" r="0.85" fill="#141414"/>
<circle cx="80.24" cy="515.83" r="0.85" fill="#141414"/>
<circle cx="83.23" cy="513.12" r="0.85" fill="#141414"/>
<circle cx="81.12" cy="517.49" r="0.85" fill="#141414"/>
<circle cx="82.23" cy="518.11" r="0.85" fill="#141414"/>
<circle cx="85.06" cy="515.37" r="0.85" fill="#141414"/>
<circle cx="84.64" cy="510.69" r="0.85" fill="#141414"/>
<circle cx="81.57" cy="513.4" r="0.85" fill="#141414"/>
<circle cx="77.2" cy="515" r="0.85" fill="#141414"/>
<circle cx="77.12" cy="516.01" r="0.85" fill="#141414"/>
<circle cx="91.8" cy="510.96" r="0.85" fill="#141414"/>
<circle cx="89.71" cy="516.65" r="0.85" fill="#141414"/>
<circle cx="79.61" cy="508.86" r="0.85" fill="#141414"/>
<circle cx="88.54" cy="510.07" r="0.85" fill="#141414"/>
<circle cx="99.57" cy="513.46" r="0.85" fill="#141414"/>
<circle cx="90.58" cy="514.52" r="0.85" fill="#141414"/>
<circle cx="103.62" cy="511.44" r="0.85" fill="#141414"/>
<circle cx="99.5" cy="515.05" r="0.85" fill="#141414"/>
<circle cx="94.13" cy="511.24" r="0.85" fill="#141414"/>
<circle cx="86.22" cy="514.4" r="0.85" fill="#141414"/>
<circle cx="80.26" cy="518.07" r="0.85" fill="#141414"/>
<circle cx="97" cy="517.89" r="0.85" fill="#141414"/>
<circle cx="81.17" cy="515.96" r="0.85" fill="#141414"/>
<circle cx="99.75" cy="517.75" r="0.85" fill="#141414"/>
<circle cx="95.07" cy="509.53" r="0.85" fill="#141414"/>
<circle cx="83.34" cy="515.68" r="0.85" fill="#141414"/>
<circle cx="89.29" cy="515.57" r="0.85" fill="#141414"/>
<circle cx="88.92" cy="516.99" r="0.85" fill="#141414"/>
<circle cx="103.05" cy="515.88" r="0.85" fill="#141414"/>
<circle cx="91.69" cy="508.46" r="0.85" fill="#141414"/>
<circle cx="103.16" cy="516.08" r="0.85" fill="#141414"/>
<circle cx="86.47" cy="515.4" r="0.85" fill="#141414"/>
<circle cx="87.16" cy="518.62" r="0.85" fill="#141414"/>
<circle cx="90.48" cy="513.67" r="0.85" fill="#141414"/>
<circle cx="90.53" cy="516.53" r="0.85" fill="#141414"/>
<circle cx="83.94" cy="518.58" r="0.85" fill="#141414"/>
<circle cx="87.65" cy="517.7" r="0.85" fill="#141414"/>
<circle cx="77.32" cy="518.2" r="0.85" fill="#141414"/>
<circle cx="83.08" cy="515.45" r="0.85" fill="#141414"/>
<circle cx="91.2" cy="512.51" r="0.85" fill="#141414"/>
<circle cx="94.72" cy="510.78" r="0.85" fill="#141414"/>
<circle cx="100.79" cy="511.14" r="0.85" fill="#141414"/>
<circle cx="85.64" cy="514.56" r="0.85" fill="#141414"/>
<circle cx="80.8" cy="508.33" r="0.85" fill="#141414"/>
<circle cx="94.32" cy="511.06" r="0.85" fill="#141414"/>
<circle cx="99.59" cy="518.18" r="0.85" fill="#141414"/>
<circle cx="93.89" cy="509.3" r="0.85" fill="#141414"/>
<circle cx="98.95" cy="510.96" r="0.85" fill="#141414"/>
<circle cx="91.05" cy="517.18" r="0.85" fill="#141414"/>
<circle cx="99.58" cy="513.36" r="0.85" fill="#141414"/>
<circle cx="99.34" cy="510.22" r="0.85" fill="#141414"/>
<circle cx="101.16" cy="512.52" r="0.85" fill="#141414"/>
<circle cx="95.7" cy="511.49" r="0.85" fill="#141414"/>
<circle cx="77.55" cy="516.23" r="0.85" fill="#141414"/>
<circle cx="86.58" cy="517.24" r="0.85" fill="#141414"/>
<circle cx="99.6" cy="517.54" r="0.85" fill="#141414"/>
<circle cx="93.9" cy="512.79" r="0.85" fill="#141414"/>
<circle cx="95.35" cy="512.08" r="0.85" fill="#141414"/>
<circle cx="76.79" cy="513.52" r="0.85" fill="#141414"/>
<circle cx="97.2" cy="510.29" r="0.85" fill="#141414"/>
<circle cx="91.36" cy="513.37" r="0.85" fill="#141414"/>
<circle cx="78.51" cy="511.74" r="0.85" fill="#141414"/>
<circle cx="83.61" cy="510.93" r="0.85" fill="#141414"/>
<circle cx="83.98" cy="517.86" r="0.85" fill="#141414"/>
<circle cx="82.32" cy="511" r="0.85" fill="#141414"/>
<circle cx="103.44" cy="510.89" r="0.85" fill="#141414"/>
<circle cx="87.18" cy="513.47" r="0.85" fill="#141414"/>
<circle cx="95.43" cy="513.62" r="0.85" fill="#141414"/>
<circle cx="93.61" cy="510.61" r="0.85" fill="#141414"/>
<circle cx="78.82" cy="511.91" r="0.85" fill="#141414"/>
<circle cx="83.66" cy="517.09" r="0.85" fill="#141414"/>
<circle cx="85.04" cy="510.86" r="0.85" fill="#141414"/>
<circle cx="77.04" cy="512.69" r="0.85" fill="#141414"/>
<circle cx="84.06" cy="518" r="0.85" fill="#141414"/>
<circle cx="95.67" cy="511.6" r="0.85" fill="#141414"/>
<circle cx="84.67" cy="511.57" r="0.85" fill="#141414"/>
<circle cx="89.43" cy="513.23" r="0.85" fill="#141414"/>
<circle cx="79.95" cy="513.76" r="0.85" fill="#141414"/>
<circle cx="82.16" cy="509.29" r="0.85" fill="#141414"/>
<circle cx="102.35" cy="508.4" r="0.85" fill="#141414"/>
<circle cx="89.28" cy="518.45" r="0.85" fill="#141414"/>
<circle cx="103.23" cy="510.06" r="0.85" fill="#141414"/>
<circle cx="84.06" cy="513.93" r="0.85" fill="#141414"/>
<circle cx="102.61" cy="516.44" r="0.85" fill="#141414"/>
<circle cx="92.63" cy="516.43" r="0.85" fill="#141414"/>
<circle cx="91.06" cy="517.15" r="0.85" fill="#141414"/>
<circle cx="80.33" cy="508.67" r="0.85" fill="#141414"/>
<circle cx="90.64" cy="510.05" r="0.85" fill="#141414"/>
<circle cx="95.97" cy="509.36" r="0.85" fill="#141414"/>
<circle cx="101.3" cy="516.21" r="0.85" fill="#141414"/>
<circle cx="77.38" cy="513.55" r="0.85" fill="#141414"/>
<circle cx="90.17" cy="518.6" r="0.85" fill="#141414"/>
<circle cx="84.97" cy="513.92" r="0.85" fill="#141414"/>
<circle cx="86.12" cy="517.16" r="0.85" fill="#141414"/>
<circle cx="99.72" cy="515.33" r="0.85" fill="#141414"/>
<circle cx="97.27" cy="518.62" r="0.85" fill="#141414"/>
<circle cx="79.99" cy="509.86" r="0.85" fill="#141414"/>
<circle cx="96.24" cy="508.94" r="0.85" fill="#141414"/>
<circle cx="84.64" cy="509.2" r="0.85" fill="#141414"/>
<circle cx="87.47" cy="514.74" r="0.85" fill="#141414"/>
<circle cx="92.84" cy="508.19" r="0.85" fill="#141414"/>
<circle cx="88.43" cy="514.86" r="0.85" fill="#141414"/>
<circle cx="78.02" cy="515.76" r="0.85" fill="#141414"/>
<circle cx="99.57" cy="517.57" r="0.85" fill="#141414"/>
<circle cx="102.34" cy="515.65" r="0.85" fill="#141414"/>
<circle cx="83.98" cy="516.03" r="0.85" fill="#141414"/>
<circle cx="81.9" cy="513.29" r="0.85" fill="#141414"/>
<circle cx="102.9" cy="514.73" r="0.85" fill="#141414"/>
<circle cx="98.95" cy="509.38" r="0.85" fill="#141414"/>
<circle cx="101.73" cy="512.03" r="0.85" fill="#141414"/>
<circle cx="91.75" cy="508.79" r="0.85" fill="#141414"/>
<circle cx="78.06" cy="511.11" r="0.85" fill="#141414"/>
<circle cx="89.05" cy="510.97" r="0.85" fill="#141414"/>
<circle cx="94.36" cy="510.76" r="0.85" fill="#141414"/>
<circle cx="78.04" cy="515.64" r="0.85" fill="#141414"/>
<circle cx="80.19" cy="508.94" r="0.85" fill="#141414"/>
<circle cx="86.12" cy="513.69" r="0.85" fill="#141414"/>
<circle cx="96.95" cy="515.52" r="0.85" fill="#141414"/>
<circle cx="83.83" cy="508.42" r="0.85" fill="#141414"/>
<circle cx="84.94" cy="511.77" r="0.85" fill="#141414"/>
<circle cx="87.51" cy="512.8" r="0.85" fill="#141414"/>
<circle cx="81.13" cy="516.88" r="0.85" fill="#141414"/>
<circle cx="101.52" cy="516.46" r="0.85" fill="#141414"/>
<circle cx="82.73" cy="513.43" r="0.85" fill="#141414"/>
<circle cx="104" cy="509.15" r="0.85" fill="#141414"/>
<circle cx="80.52" cy="513.93" r="0.85" fill="#141414"/>
<circle cx="79.19" cy="516.62" r="0.85" fill="#141414"/>
<circle cx="79.2" cy="515.06" r="0.85" fill="#141414"/>
<circle cx="83.78" cy="516.13" r="0.85" fill="#141414"/>
<circle cx="101.01" cy="512.68" r="0.85" fill="#141414"/>
<circle cx="88.01" cy="510.79" r="0.85" fill="#141414"/>
<circle cx="91.06" cy="514.3" r="0.85" fill="#141414"/>
<circle cx="85.97" cy="514.69" r="0.85" fill="#141414"/>
<circle cx="84.3" cy="517.98" r="0.85" fill="#141414"/>
<circle cx="80.15" cy="508.51" r="0.85" fill="#141414"/>
<circle cx="93.95" cy="513.83" r="0.85" fill="#141414"/>
<circle cx="82.62" cy="511.9" r="0.85" fill="#141414"/>
<circle cx="83.51" cy="515.08" r="0.85" fill="#141414"/>
<circle cx="88.92" cy="514.39" r="0.85" fill="#141414"/>
<circle cx="99.95" cy="511.41" r="0.85" fill="#141414"/>
<circle cx="77.3" cy="511.85" r="0.85" fill="#141414"/>
<circle cx="96.14" cy="516.37" r="0.85" fill="#141414"/>
<circle cx="89.67" cy="511.72" r="0.85" fill="#141414"/>
<circle cx="76.7" cy="513.38" r="0.85" fill="#141414"/>
<circle cx="102.1" cy="514.44" r="0.85" fill="#141414"/>
<circle cx="100.14" cy="512.1" r="0.85" fill="#141414"/>
<circle cx="83.51" cy="511.31" r="0.85" fill="#141414"/>
<circle cx="80.93" cy="515.96" r="0.85" fill="#141414"/>
<circle cx="95.39" cy="513.73" r="0.85" fill="#141414"/>
<circle cx="96.48" cy="511.48" r="0.85" fill="#141414"/>
<circle cx="97.66" cy="513.06" r="0.85" fill="#141414"/>
<circle cx="91.81" cy="514.08" r="0.85" fill="#141414"/>
<circle cx="98.13" cy="516.33" r="0.85" fill="#141414"/>
<circle cx="101.91" cy="515.29" r="0.85" fill="#141414"/>
<circle cx="85.02" cy="513.07" r="0.85" fill="#141414"/>
<circle cx="83.6" cy="515.85" r="0.85" fill="#141414"/>
<circle cx="95.84" cy="513.12" r="0.85" fill="#141414"/>
<circle cx="78.63" cy="515.94" r="0.85" fill="#141414"/>
<circle cx="92.67" cy="513.72" r="0.85" fill="#141414"/>
<circle cx="82.83" cy="514.45" r="0.85" fill="#141414"/>
<circle cx="76.99" cy="513.31" r="0.85" fill="#141414"/>
<circle cx="89.32" cy="514.92" r="0.85" fill="#141414"/>
<circle cx="94.36" cy="511.38" r="0.85" fill="#141414"/>
<circle cx="89.72" cy="511.79" r="0.85" fill="#141414"/>
<circle cx="83.47" cy="515.28" r="0.85" fill="#141414"/>
<circle cx="96.01" cy="511.37" r="0.85" fill="#141414"/>
<circle cx="77.3" cy="514.89" r="0.85" fill="#141414"/>
<circle cx="95.18" cy="513.86" r="0.85" fill="#141414"/>
<circle cx="83.75" cy="514.28" r="0.85" fill="#141414"/>
<circle cx="102.05" cy="512.95" r="0.85" fill="#141414"/>
<circle cx="77.63" cy="515.32" r="0.85" fill="#141414"/>
<circle cx="88.22" cy="514.72" r="0.85" fill="#141414"/>
<circle cx="82.13" cy="512.87" r="0.85" fill="#141414"/>
<circle cx="96.95" cy="512.25" r="0.85" fill="#141414"/>
<circle cx="82.32" cy="513.83" r="0.85" fill="#141414"/>
<circle cx="85.24" cy="511.32" r="0.85" fill="#141414"/>
<circle cx="83.02" cy="512.13" r="0.85" fill="#141414"/>
<circle cx="97.54" cy="515.35" r="0.85" fill="#141414"/>
<circle cx="102.78" cy="514.96" r="0.85" fill="#141414"/>
<circle cx="81.83" cy="513.87" r="0.85" fill="#141414"/>
<circle cx="88.13" cy="515.34" r="0.85" fill="#141414"/>
<circle cx="102.7" cy="512.96" r="0.85" fill="#141414"/>
<circle cx="87.48" cy="515.75" r="0.85" fill="#141414"/>
<circle cx="103.39" cy="515.4" r="0.85" fill="#141414"/>
<circle cx="78.12" cy="515.78" r="0.85" fill="#141414"/>
<circle cx="87.48" cy="516.22" r="0.85" fill="#141414"/>
<circle cx="100.91" cy="511.71" r="0.85" fill="#141414"/>
<circle cx="104.03" cy="512.6" r="0.85" fill="#141414"/>
<circle cx="85.72" cy="511.53" r="0.85" fill="#141414"/>
<circle cx="102.34" cy="515.54" r="0.85" fill="#141414"/>
<circle cx="77.57" cy="512.53" r="0.85" fill="#141414"/>
<circle cx="87.07" cy="512.97" r="0.85" fill="#141414"/>
<circle cx="85.79" cy="514.53" r="0.85" fill="#141414"/>
<circle cx="76.78" cy="515.63" r="0.85" fill="#141414"/>
<circle cx="86.33" cy="515.04" r="0.85" fill="#141414"/>
<circle cx="80.09" cy="511.4" r="0.85" fill="#141414"/>
<circle cx="82.38" cy="511.35" r="0.85" fill="#141414"/>
<circle cx="99.21" cy="514.62" r="0.85" fill="#141414"/>
<circle cx="88.55" cy="512.12" r="0.85" fill="#141414"/>
<circle cx="89.67" cy="516.28" r="0.85" fill="#141414"/>
<circle cx="101.89" cy="514.54" r="0.85" fill="#141414"/>
<circle cx="86.68" cy="515.5" r="0.85" fill="#141414"/>
<circle cx="77.53" cy="511.72" r="0.85" fill="#141414"/>
<circle cx="98.94" cy="514.33" r="0.85" fill="#141414"/>
<circle cx="77.81" cy="512.42" r="0.85" fill="#141414"/>
<circle cx="78.41" cy="516.35" r="0.85" fill="#141414"/>
<circle cx="83.74" cy="511.59" r="0.85" fill="#141414"/>
<circle cx="101.32" cy="512.52" r="0.85" fill="#141414"/>
<circle cx="84.16" cy="514.72" r="0.85" fill="#141414"/>
<circle cx="93.61" cy="511.39" r="0.85" fill="#141414"/>
<circle cx="96.34" cy="515.13" r="0.85" fill="#141414"/>
<circle cx="84.25" cy="514.84" r="0.85" fill="#141414"/>
<circle cx="97.4" cy="516.52" r="0.85" fill="#141414"/>
<circle cx="94.07" cy="511.61" r="0.85" fill="#141414"/>
<circle cx="77.36" cy="511.47" r="0.85" fill="#141414"/>
<circle cx="94.8" cy="475.6" r="0.85" fill="#141414"/>
<circle cx="80" cy="500" r="0.85" fill="#141414"/>
<circle cx="98" cy="497" r="0.85" fill="#141414"/>
<circle cx="92" cy="502" r="0.85" fill="#141414"/>
<path d="M34.6 530.3 V371.5 H111.2" fill="none" stroke="#3a3a3a" stroke-width="1.1"/>
<path d="M111.2 371.5 V530.3 H34.6" fill="none" stroke="#1a1a1a" stroke-width="1.6"/>
<text transform="translate(30.8 532.9) scale(1 1.1)" font-size="9.6" text-anchor="end" font-weight="bold" fill="#4d4d4d" font-family='"Liberation Sans", sans-serif' stroke="#4d4d4d" stroke-width="0.08">0</text>
<text transform="translate(30.8 503.01) scale(1 1.1)" font-size="9.6" text-anchor="end" font-weight="bold" fill="#4d4d4d" font-family='"Liberation Sans", sans-serif' stroke="#4d4d4d" stroke-width="0.08">100</text>
<text transform="translate(30.8 473.12) scale(1 1.1)" font-size="9.6" text-anchor="end" font-weight="bold" fill="#4d4d4d" font-family='"Liberation Sans", sans-serif' stroke="#4d4d4d" stroke-width="0.08">200</text>
<text transform="translate(30.8 443.23) scale(1 1.1)" font-size="9.6" text-anchor="end" font-weight="bold" fill="#4d4d4d" font-family='"Liberation Sans", sans-serif' stroke="#4d4d4d" stroke-width="0.08">300</text>
<text transform="translate(30.8 413.34) scale(1 1.1)" font-size="9.6" text-anchor="end" font-weight="bold" fill="#4d4d4d" font-family='"Liberation Sans", sans-serif' stroke="#4d4d4d" stroke-width="0.08">400</text>
<text transform="translate(30.8 383.45) scale(1 1.1)" font-size="9.6" text-anchor="end" font-weight="bold" fill="#4d4d4d" font-family='"Liberation Sans", sans-serif' stroke="#4d4d4d" stroke-width="0.08">500</text>
<text transform="translate(55.6 541.6) scale(1 1.08)" font-size="10.6" text-anchor="middle" font-weight="bold" fill="#4d4d4d" font-family='"Liberation Sans", sans-serif' stroke="#4d4d4d" stroke-width="0.08">BOT</text>
<text transform="translate(90.4 541.6) scale(1 1.08)" font-size="10.6" text-anchor="middle" font-weight="bold" fill="#4d4d4d" font-family='"Liberation Sans", sans-serif' stroke="#4d4d4d" stroke-width="0.08">OC</text>
<text transform="translate(32.8 353.1) scale(1 1.06)" font-size="10.7" text-anchor="start" font-weight="bold" fill="#000" font-family='"Liberation Serif", serif' >Human epididymis</text>
<text transform="translate(74.3 366.2) scale(1 1.06)" font-size="10.7" text-anchor="middle" font-weight="bold" fill="#000" font-family='"Liberation Serif", serif' >protein 4</text>
<rect x="133.6" y="370.2" width="89.4" height="159.1" fill="#ffffff" stroke="none" stroke-width="0" />
<line x1="133.6" y1="503.64" x2="223" y2="503.64" stroke="#e6e6e6" stroke-width="0.7"/>
<line x1="133.6" y1="462.51" x2="223" y2="462.51" stroke="#e6e6e6" stroke-width="0.7"/>
<line x1="133.6" y1="421.38" x2="223" y2="421.38" stroke="#e6e6e6" stroke-width="0.7"/>
<line x1="133.6" y1="380.25" x2="223" y2="380.25" stroke="#e6e6e6" stroke-width="0.7"/>
<line x1="133.6" y1="524.2" x2="223" y2="524.2" stroke="#dcdcdc" stroke-width="1.0"/>
<line x1="133.6" y1="483.07" x2="223" y2="483.07" stroke="#dcdcdc" stroke-width="1.0"/>
<line x1="133.6" y1="441.94" x2="223" y2="441.94" stroke="#dcdcdc" stroke-width="1.0"/>
<line x1="133.6" y1="400.81" x2="223" y2="400.81" stroke="#dcdcdc" stroke-width="1.0"/>
<line x1="158.1" y1="370.2" x2="158.1" y2="529.3" stroke="#dcdcdc" stroke-width="1.0"/>
<line x1="198.6" y1="370.2" x2="198.6" y2="529.3" stroke="#dcdcdc" stroke-width="1.0"/>
<line x1="158.1" y1="481.29" x2="158.1" y2="457.98" stroke="#333" stroke-width="0.9"/>
<line x1="158.1" y1="513.51" x2="158.1" y2="521.46" stroke="#333" stroke-width="0.9"/>
<rect x="142.3" y="481.29" width="31.6" height="32.22" fill="#996ab0" stroke="#2a2a2a" stroke-width="0.9" />
<line x1="142.3" y1="502.26" x2="173.9" y2="502.26" stroke="#1a1a1a" stroke-width="1.5"/>
<circle cx="158.1" cy="377.78" r="1.9" fill="#1e1e1e"/>
<circle cx="158.1" cy="395.33" r="1.9" fill="#1e1e1e"/>
<circle cx="158.1" cy="399.44" r="1.9" fill="#1e1e1e"/>
<circle cx="158.1" cy="412.46" r="1.9" fill="#1e1e1e"/>
<circle cx="158.1" cy="417.95" r="1.9" fill="#1e1e1e"/>
<circle cx="158.1" cy="429.6" r="1.9" fill="#1e1e1e"/>
<circle cx="158.1" cy="432.34" r="1.9" fill="#1e1e1e"/>
<line x1="198.6" y1="498.15" x2="198.6" y2="478.27" stroke="#333" stroke-width="0.9"/>
<line x1="198.6" y1="512.68" x2="198.6" y2="520.77" stroke="#333" stroke-width="0.9"/>
<rect x="182.8" y="498.15" width="31.6" height="14.53" fill="#f9ed74" stroke="#2a2a2a" stroke-width="0.9" />
<line x1="182.8" y1="506.79" x2="214.4" y2="506.79" stroke="#1a1a1a" stroke-width="1.5"/>
<circle cx="198.6" cy="429.6" r="1.9" fill="#1e1e1e"/>
<circle cx="198.6" cy="467.44" r="1.9" fill="#1e1e1e"/>
<circle cx="198.6" cy="470.32" r="1.9" fill="#1e1e1e"/>
<circle cx="198.6" cy="473.2" r="1.9" fill="#1e1e1e"/>
<circle cx="157.32" cy="505.97" r="0.85" fill="#141414"/>
<circle cx="172.44" cy="482.68" r="0.85" fill="#141414"/>
<circle cx="150.23" cy="501.05" r="0.85" fill="#141414"/>
<circle cx="157.89" cy="499.65" r="0.85" fill="#141414"/>
<circle cx="148.08" cy="483.6" r="0.85" fill="#141414"/>
<circle cx="165.64" cy="487.65" r="0.85" fill="#141414"/>
<circle cx="166.72" cy="487" r="0.85" fill="#141414"/>
<circle cx="152.66" cy="493.94" r="0.85" fill="#141414"/>
<circle cx="153.73" cy="503.21" r="0.85" fill="#141414"/>
<circle cx="144.8" cy="488.3" r="0.85" fill="#141414"/>
<circle cx="166.09" cy="507.15" r="0.85" fill="#141414"/>
<circle cx="144.35" cy="505.54" r="0.85" fill="#141414"/>
<circle cx="159.76" cy="512.42" r="0.85" fill="#141414"/>
<circle cx="173.28" cy="503.01" r="0.85" fill="#141414"/>
<circle cx="173.52" cy="485.04" r="0.85" fill="#141414"/>
<circle cx="144.96" cy="504.97" r="0.85" fill="#141414"/>
<circle cx="158.05" cy="510.4" r="0.85" fill="#141414"/>
<circle cx="156.42" cy="490.64" r="0.85" fill="#141414"/>
<circle cx="155.47" cy="505.96" r="0.85" fill="#141414"/>
<circle cx="163.6" cy="493.52" r="0.85" fill="#141414"/>
<circle cx="169.06" cy="489.41" r="0.85" fill="#141414"/>
<circle cx="146.13" cy="492.1" r="0.85" fill="#141414"/>
<circle cx="151.58" cy="486.41" r="0.85" fill="#141414"/>
<circle cx="154.09" cy="495.24" r="0.85" fill="#141414"/>
<circle cx="148.59" cy="489.73" r="0.85" fill="#141414"/>
<circle cx="150.05" cy="505.53" r="0.85" fill="#141414"/>
<circle cx="170.24" cy="508.57" r="0.85" fill="#141414"/>
<circle cx="152.61" cy="494.87" r="0.85" fill="#141414"/>
<circle cx="173.66" cy="500.75" r="0.85" fill="#141414"/>
<circle cx="149.61" cy="497.16" r="0.85" fill="#141414"/>
<circle cx="162.95" cy="487.46" r="0.85" fill="#141414"/>
<circle cx="145.53" cy="481.58" r="0.85" fill="#141414"/>
<circle cx="168.18" cy="498.21" r="0.85" fill="#141414"/>
<circle cx="171.19" cy="486.42" r="0.85" fill="#141414"/>
<circle cx="151.58" cy="512.21" r="0.85" fill="#141414"/>
<circle cx="148.29" cy="509.67" r="0.85" fill="#141414"/>
<circle cx="160.73" cy="482.16" r="0.85" fill="#141414"/>
<circle cx="154.06" cy="483.54" r="0.85" fill="#141414"/>
<circle cx="156.49" cy="485.6" r="0.85" fill="#141414"/>
<circle cx="166.88" cy="505.13" r="0.85" fill="#141414"/>
<circle cx="145.64" cy="483.04" r="0.85" fill="#141414"/>
<circle cx="161.89" cy="494.3" r="0.85" fill="#141414"/>
<circle cx="153.95" cy="506.49" r="0.85" fill="#141414"/>
<circle cx="148.75" cy="508.95" r="0.85" fill="#141414"/>
<circle cx="161.24" cy="505.29" r="0.85" fill="#141414"/>
<circle cx="148.73" cy="492.51" r="0.85" fill="#141414"/>
<circle cx="152.64" cy="513.14" r="0.85" fill="#141414"/>
<circle cx="148.15" cy="491.65" r="0.85" fill="#141414"/>
<circle cx="148.73" cy="503.45" r="0.85" fill="#141414"/>
<circle cx="159.62" cy="487.88" r="0.85" fill="#141414"/>
<circle cx="145.5" cy="511.47" r="0.85" fill="#141414"/>
<circle cx="159.68" cy="500.77" r="0.85" fill="#141414"/>
<circle cx="145.18" cy="492.91" r="0.85" fill="#141414"/>
<circle cx="164.27" cy="508.23" r="0.85" fill="#141414"/>
<circle cx="151.25" cy="500.3" r="0.85" fill="#141414"/>
<circle cx="172.42" cy="503.6" r="0.85" fill="#141414"/>
<circle cx="160.2" cy="503.44" r="0.85" fill="#141414"/>
<circle cx="155.46" cy="502" r="0.85" fill="#141414"/>
<circle cx="173.79" cy="485.66" r="0.85" fill="#141414"/>
<circle cx="148.53" cy="501.79" r="0.85" fill="#141414"/>
<circle cx="148.74" cy="490.05" r="0.85" fill="#141414"/>
<circle cx="170.79" cy="513.32" r="0.85" fill="#141414"/>
<circle cx="168.22" cy="499.85" r="0.85" fill="#141414"/>
<circle cx="170.2" cy="500.42" r="0.85" fill="#141414"/>
<circle cx="147.44" cy="498.66" r="0.85" fill="#141414"/>
<circle cx="159.73" cy="513.03" r="0.85" fill="#141414"/>
<circle cx="171.05" cy="492.86" r="0.85" fill="#141414"/>
<circle cx="161.96" cy="510.64" r="0.85" fill="#141414"/>
<circle cx="158.24" cy="501.56" r="0.85" fill="#141414"/>
<circle cx="151.25" cy="508.81" r="0.85" fill="#141414"/>
<circle cx="171.55" cy="496.72" r="0.85" fill="#141414"/>
<circle cx="157.8" cy="510" r="0.85" fill="#141414"/>
<circle cx="172.85" cy="487.58" r="0.85" fill="#141414"/>
<circle cx="146.3" cy="507.15" r="0.85" fill="#141414"/>
<circle cx="173.13" cy="483.12" r="0.85" fill="#141414"/>
<circle cx="143.99" cy="497.95" r="0.85" fill="#141414"/>
<circle cx="154.56" cy="483.67" r="0.85" fill="#141414"/>
<circle cx="161.9" cy="484.37" r="0.85" fill="#141414"/>
<circle cx="147.36" cy="486.94" r="0.85" fill="#141414"/>
<circle cx="149.32" cy="488.19" r="0.85" fill="#141414"/>
<circle cx="169.04" cy="500.47" r="0.85" fill="#141414"/>
<circle cx="148.08" cy="486.79" r="0.85" fill="#141414"/>
<circle cx="154.93" cy="506.48" r="0.85" fill="#141414"/>
<circle cx="154.42" cy="496.82" r="0.85" fill="#141414"/>
<circle cx="150.11" cy="509.54" r="0.85" fill="#141414"/>
<circle cx="170.65" cy="490.15" r="0.85" fill="#141414"/>
<circle cx="160.07" cy="512.18" r="0.85" fill="#141414"/>
<circle cx="143.5" cy="489.1" r="0.85" fill="#141414"/>
<circle cx="146.02" cy="486.5" r="0.85" fill="#141414"/>
<circle cx="159.68" cy="494.19" r="0.85" fill="#141414"/>
<circle cx="151.98" cy="516.73" r="0.85" fill="#141414"/>
<circle cx="160.71" cy="518.52" r="0.85" fill="#141414"/>
<circle cx="163.12" cy="518.47" r="0.85" fill="#141414"/>
<circle cx="156.15" cy="518.28" r="0.85" fill="#141414"/>
<circle cx="161.86" cy="521.94" r="0.85" fill="#141414"/>
<circle cx="149.73" cy="517.92" r="0.85" fill="#141414"/>
<circle cx="166.95" cy="515.55" r="0.85" fill="#141414"/>
<circle cx="147.97" cy="518.19" r="0.85" fill="#141414"/>
<circle cx="145.68" cy="518.06" r="0.85" fill="#141414"/>
<circle cx="155.91" cy="521.03" r="0.85" fill="#141414"/>
<circle cx="156.27" cy="521.35" r="0.85" fill="#141414"/>
<circle cx="143.59" cy="517.74" r="0.85" fill="#141414"/>
<circle cx="144.9" cy="516.65" r="0.85" fill="#141414"/>
<circle cx="166.87" cy="515.81" r="0.85" fill="#141414"/>
<circle cx="144.01" cy="517.73" r="0.85" fill="#141414"/>
<circle cx="154.24" cy="517.79" r="0.85" fill="#141414"/>
<circle cx="146.6" cy="513.93" r="0.85" fill="#141414"/>
<circle cx="173.78" cy="514.74" r="0.85" fill="#141414"/>
<circle cx="168.05" cy="515.82" r="0.85" fill="#141414"/>
<circle cx="173.32" cy="520.47" r="0.85" fill="#141414"/>
<circle cx="172.53" cy="517.9" r="0.85" fill="#141414"/>
<circle cx="147.52" cy="514.23" r="0.85" fill="#141414"/>
<circle cx="171.71" cy="515.33" r="0.85" fill="#141414"/>
<circle cx="153.39" cy="521.58" r="0.85" fill="#141414"/>
<circle cx="147.32" cy="515.61" r="0.85" fill="#141414"/>
<circle cx="150.99" cy="514.4" r="0.85" fill="#141414"/>
<circle cx="146.84" cy="515.1" r="0.85" fill="#141414"/>
<circle cx="171.37" cy="517.81" r="0.85" fill="#141414"/>
<circle cx="150.61" cy="520.34" r="0.85" fill="#141414"/>
<circle cx="152.38" cy="517.77" r="0.85" fill="#141414"/>
<circle cx="148.05" cy="521.83" r="0.85" fill="#141414"/>
<circle cx="171.89" cy="520.75" r="0.85" fill="#141414"/>
<circle cx="170.6" cy="477.84" r="0.85" fill="#141414"/>
<circle cx="167.1" cy="478.68" r="0.85" fill="#141414"/>
<circle cx="159.07" cy="478.77" r="0.85" fill="#141414"/>
<circle cx="153.67" cy="477.91" r="0.85" fill="#141414"/>
<circle cx="159.84" cy="477.52" r="0.85" fill="#141414"/>
<circle cx="170.19" cy="478" r="0.85" fill="#141414"/>
<circle cx="173.68" cy="478.78" r="0.85" fill="#141414"/>
<circle cx="154.76" cy="477.92" r="0.85" fill="#141414"/>
<circle cx="150.67" cy="477.64" r="0.85" fill="#141414"/>
<circle cx="160.54" cy="477.33" r="0.85" fill="#141414"/>
<circle cx="166.46" cy="478.36" r="0.85" fill="#141414"/>
<circle cx="147.89" cy="478.23" r="0.85" fill="#141414"/>
<circle cx="143.83" cy="463.31" r="0.85" fill="#141414"/>
<circle cx="150.32" cy="461.85" r="0.85" fill="#141414"/>
<circle cx="173.4" cy="465.32" r="0.85" fill="#141414"/>
<circle cx="163.27" cy="466.34" r="0.85" fill="#141414"/>
<circle cx="142.36" cy="471.59" r="0.85" fill="#141414"/>
<circle cx="147.02" cy="476.94" r="0.85" fill="#141414"/>
<circle cx="155.96" cy="465.76" r="0.85" fill="#141414"/>
<circle cx="169.9" cy="377.5" r="0.85" fill="#141414"/>
<circle cx="153.5" cy="394.7" r="0.85" fill="#141414"/>
<circle cx="151.5" cy="399.1" r="0.85" fill="#141414"/>
<circle cx="147.3" cy="412.3" r="0.85" fill="#141414"/>
<circle cx="148.1" cy="418" r="0.85" fill="#141414"/>
<circle cx="169.9" cy="429.5" r="0.85" fill="#141414"/>
<circle cx="150.2" cy="431.9" r="0.85" fill="#141414"/>
<circle cx="211.1" cy="505.23" r="0.85" fill="#141414"/>
<circle cx="189.98" cy="510.76" r="0.85" fill="#141414"/>
<circle cx="183.5" cy="503.19" r="0.85" fill="#141414"/>
<circle cx="194.02" cy="512.65" r="0.85" fill="#141414"/>
<circle cx="194.09" cy="511.14" r="0.85" fill="#141414"/>
<circle cx="201.24" cy="509.42" r="0.85" fill="#141414"/>
<circle cx="189.25" cy="504.12" r="0.85" fill="#141414"/>
<circle cx="197.81" cy="503.62" r="0.85" fill="#141414"/>
<circle cx="212.4" cy="510.73" r="0.85" fill="#141414"/>
<circle cx="187.52" cy="509.14" r="0.85" fill="#141414"/>
<circle cx="202.97" cy="511.29" r="0.85" fill="#141414"/>
<circle cx="207.52" cy="500.02" r="0.85" fill="#141414"/>
<circle cx="191.15" cy="506.84" r="0.85" fill="#141414"/>
<circle cx="203.18" cy="512.52" r="0.85" fill="#141414"/>
<circle cx="193.87" cy="504.51" r="0.85" fill="#141414"/>
<circle cx="196.82" cy="503.3" r="0.85" fill="#141414"/>
<circle cx="205.98" cy="499.06" r="0.85" fill="#141414"/>
<circle cx="211.35" cy="509.07" r="0.85" fill="#141414"/>
<circle cx="199.6" cy="512.04" r="0.85" fill="#141414"/>
<circle cx="190.31" cy="506.78" r="0.85" fill="#141414"/>
<circle cx="207.41" cy="511.84" r="0.85" fill="#141414"/>
<circle cx="200.21" cy="512.5" r="0.85" fill="#141414"/>
<circle cx="187.3" cy="499.01" r="0.85" fill="#141414"/>
<circle cx="202.02" cy="509.78" r="0.85" fill="#141414"/>
<circle cx="203.07" cy="505.32" r="0.85" fill="#141414"/>
<circle cx="188.32" cy="500.86" r="0.85" fill="#141414"/>
<circle cx="192.29" cy="508.19" r="0.85" fill="#141414"/>
<circle cx="210.9" cy="511.98" r="0.85" fill="#141414"/>
<circle cx="205.41" cy="501.3" r="0.85" fill="#141414"/>
<circle cx="209.48" cy="512.59" r="0.85" fill="#141414"/>
<circle cx="197.5" cy="501.85" r="0.85" fill="#141414"/>
<circle cx="197.1" cy="501.9" r="0.85" fill="#141414"/>
<circle cx="186.13" cy="509.4" r="0.85" fill="#141414"/>
<circle cx="184.03" cy="509.31" r="0.85" fill="#141414"/>
<circle cx="206.49" cy="507.81" r="0.85" fill="#141414"/>
<circle cx="209.51" cy="502.58" r="0.85" fill="#141414"/>
<circle cx="191.21" cy="502.34" r="0.85" fill="#141414"/>
<circle cx="196.58" cy="504.64" r="0.85" fill="#141414"/>
<circle cx="199.33" cy="501.23" r="0.85" fill="#141414"/>
<circle cx="203.09" cy="508.83" r="0.85" fill="#141414"/>
<circle cx="189.66" cy="498.66" r="0.85" fill="#141414"/>
<circle cx="183.28" cy="499.89" r="0.85" fill="#141414"/>
<circle cx="190.26" cy="508.9" r="0.85" fill="#141414"/>
<circle cx="212.65" cy="501.87" r="0.85" fill="#141414"/>
<circle cx="193.13" cy="501.84" r="0.85" fill="#141414"/>
<circle cx="193.18" cy="499.89" r="0.85" fill="#141414"/>
<circle cx="211.48" cy="509.21" r="0.85" fill="#141414"/>
<circle cx="204.69" cy="503.52" r="0.85" fill="#141414"/>
<circle cx="213.74" cy="503.02" r="0.85" fill="#141414"/>
<circle cx="209.33" cy="505.86" r="0.85" fill="#141414"/>
<circle cx="209.9" cy="502.55" r="0.85" fill="#141414"/>
<circle cx="205.7" cy="506.33" r="0.85" fill="#141414"/>
<circle cx="192.52" cy="504.4" r="0.85" fill="#141414"/>
<circle cx="202.47" cy="509.6" r="0.85" fill="#141414"/>
<circle cx="211.58" cy="511.55" r="0.85" fill="#141414"/>
<circle cx="183.65" cy="510.58" r="0.85" fill="#141414"/>
<circle cx="212.15" cy="511.13" r="0.85" fill="#141414"/>
<circle cx="187.28" cy="507.67" r="0.85" fill="#141414"/>
<circle cx="184.12" cy="512.27" r="0.85" fill="#141414"/>
<circle cx="202.83" cy="502.62" r="0.85" fill="#141414"/>
<circle cx="206.08" cy="502.55" r="0.85" fill="#141414"/>
<circle cx="201.46" cy="511.73" r="0.85" fill="#141414"/>
<circle cx="208.63" cy="507.4" r="0.85" fill="#141414"/>
<circle cx="210.96" cy="500.77" r="0.85" fill="#141414"/>
<circle cx="210.22" cy="511.73" r="0.85" fill="#141414"/>
<circle cx="212.64" cy="499.39" r="0.85" fill="#141414"/>
<circle cx="189.3" cy="511.13" r="0.85" fill="#141414"/>
<circle cx="183.89" cy="511.06" r="0.85" fill="#141414"/>
<circle cx="208.46" cy="500.36" r="0.85" fill="#141414"/>
<circle cx="208.87" cy="503.47" r="0.85" fill="#141414"/>
<circle cx="191.88" cy="503.51" r="0.85" fill="#141414"/>
<circle cx="185.89" cy="511.23" r="0.85" fill="#141414"/>
<circle cx="189.28" cy="501.68" r="0.85" fill="#141414"/>
<circle cx="196.19" cy="508.05" r="0.85" fill="#141414"/>
<circle cx="190.91" cy="512.38" r="0.85" fill="#141414"/>
<circle cx="205.42" cy="508.58" r="0.85" fill="#141414"/>
<circle cx="192.94" cy="507.34" r="0.85" fill="#141414"/>
<circle cx="198.72" cy="498.67" r="0.85" fill="#141414"/>
<circle cx="202.34" cy="500.31" r="0.85" fill="#141414"/>
<circle cx="195.85" cy="512.23" r="0.85" fill="#141414"/>
<circle cx="207.23" cy="506.34" r="0.85" fill="#141414"/>
<circle cx="205.07" cy="507.64" r="0.85" fill="#141414"/>
<circle cx="189.64" cy="504.87" r="0.85" fill="#141414"/>
<circle cx="185.67" cy="500.15" r="0.85" fill="#141414"/>
<circle cx="188.18" cy="500.77" r="0.85" fill="#141414"/>
<circle cx="189.18" cy="512.66" r="0.85" fill="#141414"/>
<circle cx="213.7" cy="501.61" r="0.85" fill="#141414"/>
<circle cx="198.31" cy="512.62" r="0.85" fill="#141414"/>
<circle cx="207.98" cy="505.54" r="0.85" fill="#141414"/>
<circle cx="198.43" cy="510" r="0.85" fill="#141414"/>
<circle cx="209.09" cy="507.64" r="0.85" fill="#141414"/>
<circle cx="212.63" cy="508.9" r="0.85" fill="#141414"/>
<circle cx="189.58" cy="508.56" r="0.85" fill="#141414"/>
<circle cx="198.55" cy="502.52" r="0.85" fill="#141414"/>
<circle cx="202.91" cy="511.09" r="0.85" fill="#141414"/>
<circle cx="207.7" cy="511.51" r="0.85" fill="#141414"/>
<circle cx="207.67" cy="502.55" r="0.85" fill="#141414"/>
<circle cx="194.04" cy="503.56" r="0.85" fill="#141414"/>
<circle cx="195.27" cy="506.85" r="0.85" fill="#141414"/>
<circle cx="185.52" cy="499.74" r="0.85" fill="#141414"/>
<circle cx="183.6" cy="499.77" r="0.85" fill="#141414"/>
<circle cx="191.12" cy="509.69" r="0.85" fill="#141414"/>
<circle cx="198.64" cy="499.59" r="0.85" fill="#141414"/>
<circle cx="210.73" cy="507.17" r="0.85" fill="#141414"/>
<circle cx="197.36" cy="509.29" r="0.85" fill="#141414"/>
<circle cx="206.64" cy="504.96" r="0.85" fill="#141414"/>
<circle cx="203.22" cy="501.74" r="0.85" fill="#141414"/>
<circle cx="193.12" cy="507.62" r="0.85" fill="#141414"/>
<circle cx="209.44" cy="510.43" r="0.85" fill="#141414"/>
<circle cx="206.25" cy="503.06" r="0.85" fill="#141414"/>
<circle cx="196.67" cy="510.22" r="0.85" fill="#141414"/>
<circle cx="201.1" cy="501.44" r="0.85" fill="#141414"/>
<circle cx="197.4" cy="510.85" r="0.85" fill="#141414"/>
<circle cx="190.32" cy="499.82" r="0.85" fill="#141414"/>
<circle cx="192.33" cy="509.9" r="0.85" fill="#141414"/>
<circle cx="209.46" cy="502.46" r="0.85" fill="#141414"/>
<circle cx="187.73" cy="510.44" r="0.85" fill="#141414"/>
<circle cx="193.12" cy="509.09" r="0.85" fill="#141414"/>
<circle cx="187.89" cy="505.09" r="0.85" fill="#141414"/>
<circle cx="188.78" cy="507.92" r="0.85" fill="#141414"/>
<circle cx="205.83" cy="498.51" r="0.85" fill="#141414"/>
<circle cx="213.21" cy="511.2" r="0.85" fill="#141414"/>
<circle cx="194.94" cy="511.21" r="0.85" fill="#141414"/>
<circle cx="207.92" cy="498.39" r="0.85" fill="#141414"/>
<circle cx="196.54" cy="502.03" r="0.85" fill="#141414"/>
<circle cx="202.96" cy="509.83" r="0.85" fill="#141414"/>
<circle cx="189.32" cy="511.13" r="0.85" fill="#141414"/>
<circle cx="183.87" cy="507.04" r="0.85" fill="#141414"/>
<circle cx="207.8" cy="506.88" r="0.85" fill="#141414"/>
<circle cx="198.62" cy="502.61" r="0.85" fill="#141414"/>
<circle cx="197.44" cy="503.49" r="0.85" fill="#141414"/>
<circle cx="201.88" cy="510.62" r="0.85" fill="#141414"/>
<circle cx="206.21" cy="506.8" r="0.85" fill="#141414"/>
<circle cx="196.39" cy="499.49" r="0.85" fill="#141414"/>
<circle cx="206.47" cy="504.34" r="0.85" fill="#141414"/>
<circle cx="190.02" cy="506.56" r="0.85" fill="#141414"/>
<circle cx="210.61" cy="502.19" r="0.85" fill="#141414"/>
<circle cx="204.92" cy="501.43" r="0.85" fill="#141414"/>
<circle cx="204.28" cy="500.3" r="0.85" fill="#141414"/>
<circle cx="197.14" cy="503.36" r="0.85" fill="#141414"/>
<circle cx="202.65" cy="508.13" r="0.85" fill="#141414"/>
<circle cx="196.06" cy="511.26" r="0.85" fill="#141414"/>
<circle cx="205.34" cy="501.31" r="0.85" fill="#141414"/>
<circle cx="190.7" cy="503.53" r="0.85" fill="#141414"/>
<circle cx="197.18" cy="506.53" r="0.85" fill="#141414"/>
<circle cx="195.74" cy="503.65" r="0.85" fill="#141414"/>
<circle cx="212.19" cy="502.87" r="0.85" fill="#141414"/>
<circle cx="203.48" cy="510.02" r="0.85" fill="#141414"/>
<circle cx="195.08" cy="501.37" r="0.85" fill="#141414"/>
<circle cx="213.6" cy="505.56" r="0.85" fill="#141414"/>
<circle cx="199.97" cy="521.12" r="0.85" fill="#141414"/>
<circle cx="207.5" cy="520.05" r="0.85" fill="#141414"/>
<circle cx="199.21" cy="513.2" r="0.85" fill="#141414"/>
<circle cx="200.96" cy="520.57" r="0.85" fill="#141414"/>
<circle cx="205.47" cy="516.71" r="0.85" fill="#141414"/>
<circle cx="203" cy="516.96" r="0.85" fill="#141414"/>
<circle cx="199.29" cy="514.18" r="0.85" fill="#141414"/>
<circle cx="212.76" cy="517.86" r="0.85" fill="#141414"/>
<circle cx="204.43" cy="519.61" r="0.85" fill="#141414"/>
<circle cx="206.9" cy="518.01" r="0.85" fill="#141414"/>
<circle cx="213.91" cy="520.38" r="0.85" fill="#141414"/>
<circle cx="184.59" cy="518.34" r="0.85" fill="#141414"/>
<circle cx="195.43" cy="519.05" r="0.85" fill="#141414"/>
<circle cx="196.03" cy="521.34" r="0.85" fill="#141414"/>
<circle cx="204.86" cy="517.77" r="0.85" fill="#141414"/>
<circle cx="191.18" cy="518.37" r="0.85" fill="#141414"/>
<circle cx="206.23" cy="519.49" r="0.85" fill="#141414"/>
<circle cx="199.46" cy="513.21" r="0.85" fill="#141414"/>
<circle cx="208.13" cy="519.54" r="0.85" fill="#141414"/>
<circle cx="189.5" cy="518.02" r="0.85" fill="#141414"/>
<circle cx="207.34" cy="520.32" r="0.85" fill="#141414"/>
<circle cx="202.84" cy="514.35" r="0.85" fill="#141414"/>
<circle cx="200.56" cy="517.34" r="0.85" fill="#141414"/>
<circle cx="213.26" cy="519.48" r="0.85" fill="#141414"/>
<circle cx="202.99" cy="518.36" r="0.85" fill="#141414"/>
<circle cx="208.59" cy="514.27" r="0.85" fill="#141414"/>
<circle cx="192.1" cy="517.35" r="0.85" fill="#141414"/>
<circle cx="186.76" cy="516.65" r="0.85" fill="#141414"/>
<circle cx="194.01" cy="514.14" r="0.85" fill="#141414"/>
<circle cx="191.25" cy="513.99" r="0.85" fill="#141414"/>
<circle cx="190.81" cy="518.16" r="0.85" fill="#141414"/>
<circle cx="188.67" cy="517.72" r="0.85" fill="#141414"/>
<circle cx="205.61" cy="498.1" r="0.85" fill="#141414"/>
<circle cx="190.54" cy="492.37" r="0.85" fill="#141414"/>
<circle cx="197.95" cy="491.94" r="0.85" fill="#141414"/>
<circle cx="202.94" cy="489.34" r="0.85" fill="#141414"/>
<circle cx="194.25" cy="484.59" r="0.85" fill="#141414"/>
<circle cx="209.8" cy="479.05" r="0.85" fill="#141414"/>
<circle cx="208.96" cy="496.98" r="0.85" fill="#141414"/>
<circle cx="207.58" cy="479.52" r="0.85" fill="#141414"/>
<circle cx="209.07" cy="495.26" r="0.85" fill="#141414"/>
<circle cx="183.27" cy="485.13" r="0.85" fill="#141414"/>
<circle cx="212.88" cy="497.91" r="0.85" fill="#141414"/>
<circle cx="190.7" cy="484.66" r="0.85" fill="#141414"/>
<circle cx="187.31" cy="496.06" r="0.85" fill="#141414"/>
<circle cx="207.33" cy="493.35" r="0.85" fill="#141414"/>
<circle cx="187.62" cy="491.03" r="0.85" fill="#141414"/>
<circle cx="207.82" cy="479.56" r="0.85" fill="#141414"/>
<circle cx="210.96" cy="494.7" r="0.85" fill="#141414"/>
<circle cx="207.49" cy="485.64" r="0.85" fill="#141414"/>
<circle cx="211.05" cy="484.4" r="0.85" fill="#141414"/>
<circle cx="209.31" cy="481.94" r="0.85" fill="#141414"/>
<circle cx="204.69" cy="494.09" r="0.85" fill="#141414"/>
<circle cx="206.24" cy="487.24" r="0.85" fill="#141414"/>
<circle cx="210.69" cy="489.13" r="0.85" fill="#141414"/>
<circle cx="191.16" cy="486.74" r="0.85" fill="#141414"/>
<circle cx="187.2" cy="493.34" r="0.85" fill="#141414"/>
<circle cx="184.65" cy="488.01" r="0.85" fill="#141414"/>
<circle cx="187.36" cy="488.55" r="0.85" fill="#141414"/>
<circle cx="198.54" cy="488.05" r="0.85" fill="#141414"/>
<circle cx="210.07" cy="487.06" r="0.85" fill="#141414"/>
<circle cx="209.37" cy="498.02" r="0.85" fill="#141414"/>
<circle cx="200.58" cy="488.53" r="0.85" fill="#141414"/>
<circle cx="209.36" cy="484.47" r="0.85" fill="#141414"/>
<circle cx="196.03" cy="490.44" r="0.85" fill="#141414"/>
<circle cx="185.18" cy="478.4" r="0.85" fill="#141414"/>
<circle cx="202.9" cy="485.05" r="0.85" fill="#141414"/>
<circle cx="202.07" cy="497.56" r="0.85" fill="#141414"/>
<circle cx="212.24" cy="484.11" r="0.85" fill="#141414"/>
<circle cx="213.82" cy="491.36" r="0.85" fill="#141414"/>
<circle cx="198.12" cy="487.65" r="0.85" fill="#141414"/>
<circle cx="183.87" cy="479.69" r="0.85" fill="#141414"/>
<circle cx="202.56" cy="483.38" r="0.85" fill="#141414"/>
<circle cx="210.03" cy="491.19" r="0.85" fill="#141414"/>
<circle cx="197.8" cy="490.62" r="0.85" fill="#141414"/>
<circle cx="207.15" cy="487.34" r="0.85" fill="#141414"/>
<circle cx="196.55" cy="493.82" r="0.85" fill="#141414"/>
<circle cx="200.31" cy="471.37" r="0.85" fill="#141414"/>
<circle cx="192.06" cy="468.04" r="0.85" fill="#141414"/>
<circle cx="195.56" cy="468.04" r="0.85" fill="#141414"/>
<circle cx="191.39" cy="470.7" r="0.85" fill="#141414"/>
<circle cx="213.61" cy="470.68" r="0.85" fill="#141414"/>
<circle cx="190" cy="429.5" r="0.85" fill="#141414"/>
<path d="M133.6 529.3 V370.2 H223.0" fill="none" stroke="#3a3a3a" stroke-width="1.1"/>
<path d="M223.0 370.2 V529.3 H133.6" fill="none" stroke="#1a1a1a" stroke-width="1.6"/>
<text transform="translate(130.9 529.7) scale(1 1.1)" font-size="9.6" text-anchor="end" font-weight="bold" fill="#4d4d4d" font-family='"Liberation Sans", sans-serif' stroke="#4d4d4d" stroke-width="0.08">0</text>
<text transform="translate(130.9 488.57) scale(1 1.1)" font-size="9.6" text-anchor="end" font-weight="bold" fill="#4d4d4d" font-family='"Liberation Sans", sans-serif' stroke="#4d4d4d" stroke-width="0.08">3</text>
<text transform="translate(130.9 447.44) scale(1 1.1)" font-size="9.6" text-anchor="end" font-weight="bold" fill="#4d4d4d" font-family='"Liberation Sans", sans-serif' stroke="#4d4d4d" stroke-width="0.08">6</text>
<text transform="translate(130.9 406.31) scale(1 1.1)" font-size="9.6" text-anchor="end" font-weight="bold" fill="#4d4d4d" font-family='"Liberation Sans", sans-serif' stroke="#4d4d4d" stroke-width="0.08">9</text>
<text transform="translate(158.1 541.6) scale(1 1.08)" font-size="10.6" text-anchor="middle" font-weight="bold" fill="#4d4d4d" font-family='"Liberation Sans", sans-serif' stroke="#4d4d4d" stroke-width="0.08">BOT</text>
<text transform="translate(198.6 541.6) scale(1 1.08)" font-size="10.6" text-anchor="middle" font-weight="bold" fill="#4d4d4d" font-family='"Liberation Sans", sans-serif' stroke="#4d4d4d" stroke-width="0.08">OC</text>
<text transform="translate(141.7 353.1) scale(1 1.06)" font-size="10.7" text-anchor="start" font-weight="bold" fill="#000" font-family='"Liberation Serif", serif' >Carcinoembryonic</text>
<text transform="translate(180.6 364) scale(1 1.06)" font-size="10.7" text-anchor="middle" font-weight="bold" fill="#000" font-family='"Liberation Serif", serif' >antigen</text>
<rect x="246" y="370" width="82.4" height="156.5" fill="#ffffff" stroke="none" stroke-width="0" />
<line x1="246" y1="487.8" x2="328.4" y2="487.8" stroke="#e6e6e6" stroke-width="0.7"/>
<line x1="246" y1="446.4" x2="328.4" y2="446.4" stroke="#e6e6e6" stroke-width="0.7"/>
<line x1="246" y1="405" x2="328.4" y2="405" stroke="#e6e6e6" stroke-width="0.7"/>
<line x1="246" y1="508.5" x2="328.4" y2="508.5" stroke="#dcdcdc" stroke-width="1.0"/>
<line x1="246" y1="467.1" x2="328.4" y2="467.1" stroke="#dcdcdc" stroke-width="1.0"/>
<line x1="246" y1="425.7" x2="328.4" y2="425.7" stroke="#dcdcdc" stroke-width="1.0"/>
<line x1="246" y1="384.3" x2="328.4" y2="384.3" stroke="#dcdcdc" stroke-width="1.0"/>
<line x1="268.5" y1="370" x2="268.5" y2="526.5" stroke="#dcdcdc" stroke-width="1.0"/>
<line x1="305.8" y1="370" x2="305.8" y2="526.5" stroke="#dcdcdc" stroke-width="1.0"/>
<line x1="268.5" y1="419.28" x2="268.5" y2="378.71" stroke="#333" stroke-width="0.9"/>
<line x1="268.5" y1="457.37" x2="268.5" y2="512.02" stroke="#333" stroke-width="0.9"/>
<rect x="254.4" y="419.28" width="28.2" height="38.09" fill="#996ab0" stroke="#2a2a2a" stroke-width="0.9" />
<line x1="254.4" y1="438.95" x2="282.6" y2="438.95" stroke="#1a1a1a" stroke-width="1.5"/>
<line x1="305.8" y1="455.71" x2="305.8" y2="406.03" stroke="#333" stroke-width="0.9"/>
<line x1="305.8" y1="494.01" x2="305.8" y2="521.95" stroke="#333" stroke-width="0.9"/>
<rect x="291.7" y="455.71" width="28.2" height="38.3" fill="#f9ed74" stroke="#2a2a2a" stroke-width="0.9" />
<line x1="291.7" y1="475.38" x2="319.9" y2="475.38" stroke="#1a1a1a" stroke-width="1.5"/>
<circle cx="276.73" cy="432.44" r="0.85" fill="#141414"/>
<circle cx="263.34" cy="444.77" r="0.85" fill="#141414"/>
<circle cx="270.94" cy="445.97" r="0.85" fill="#141414"/>
<circle cx="276.51" cy="433.19" r="0.85" fill="#141414"/>
<circle cx="274.78" cy="455.85" r="0.85" fill="#141414"/>
<circle cx="269.78" cy="423.64" r="0.85" fill="#141414"/>
<circle cx="262.87" cy="455.48" r="0.85" fill="#141414"/>
<circle cx="259.76" cy="457.13" r="0.85" fill="#141414"/>
<circle cx="271.56" cy="422.28" r="0.85" fill="#141414"/>
<circle cx="276.65" cy="432.31" r="0.85" fill="#141414"/>
<circle cx="271.65" cy="422.72" r="0.85" fill="#141414"/>
<circle cx="272.08" cy="433.88" r="0.85" fill="#141414"/>
<circle cx="271.22" cy="430.85" r="0.85" fill="#141414"/>
<circle cx="260.39" cy="431.43" r="0.85" fill="#141414"/>
<circle cx="267.31" cy="431.97" r="0.85" fill="#141414"/>
<circle cx="257.26" cy="428.32" r="0.85" fill="#141414"/>
<circle cx="255.44" cy="450.47" r="0.85" fill="#141414"/>
<circle cx="280.18" cy="427.87" r="0.85" fill="#141414"/>
<circle cx="264.8" cy="432.4" r="0.85" fill="#141414"/>
<circle cx="276.58" cy="426.04" r="0.85" fill="#141414"/>
<circle cx="261.68" cy="435.96" r="0.85" fill="#141414"/>
<circle cx="266.29" cy="445.87" r="0.85" fill="#141414"/>
<circle cx="266.55" cy="445.24" r="0.85" fill="#141414"/>
<circle cx="280.73" cy="432.93" r="0.85" fill="#141414"/>
<circle cx="270.4" cy="455.29" r="0.85" fill="#141414"/>
<circle cx="257.75" cy="455.87" r="0.85" fill="#141414"/>
<circle cx="270.62" cy="426.51" r="0.85" fill="#141414"/>
<circle cx="266.99" cy="422.38" r="0.85" fill="#141414"/>
<circle cx="265.32" cy="456.83" r="0.85" fill="#141414"/>
<circle cx="280.84" cy="434.82" r="0.85" fill="#141414"/>
<circle cx="267.81" cy="420.01" r="0.85" fill="#141414"/>
<circle cx="257.28" cy="441.66" r="0.85" fill="#141414"/>
<circle cx="260.39" cy="432.82" r="0.85" fill="#141414"/>
<circle cx="254.84" cy="451.59" r="0.85" fill="#141414"/>
<circle cx="273.68" cy="457.19" r="0.85" fill="#141414"/>
<circle cx="281.65" cy="452.74" r="0.85" fill="#141414"/>
<circle cx="278.92" cy="454.01" r="0.85" fill="#141414"/>
<circle cx="254.9" cy="452.46" r="0.85" fill="#141414"/>
<circle cx="261.23" cy="429.97" r="0.85" fill="#141414"/>
<circle cx="259.68" cy="429.43" r="0.85" fill="#141414"/>
<circle cx="276.23" cy="455.46" r="0.85" fill="#141414"/>
<circle cx="278.52" cy="430.19" r="0.85" fill="#141414"/>
<circle cx="256.78" cy="429.58" r="0.85" fill="#141414"/>
<circle cx="274.4" cy="433.43" r="0.85" fill="#141414"/>
<circle cx="280.69" cy="439.83" r="0.85" fill="#141414"/>
<circle cx="281.59" cy="447.69" r="0.85" fill="#141414"/>
<circle cx="254.72" cy="430.05" r="0.85" fill="#141414"/>
<circle cx="272.75" cy="456.81" r="0.85" fill="#141414"/>
<circle cx="256.65" cy="426.24" r="0.85" fill="#141414"/>
<circle cx="274.97" cy="445.52" r="0.85" fill="#141414"/>
<circle cx="278.68" cy="451.05" r="0.85" fill="#141414"/>
<circle cx="256.09" cy="438.85" r="0.85" fill="#141414"/>
<circle cx="270.61" cy="443.37" r="0.85" fill="#141414"/>
<circle cx="273.49" cy="440.66" r="0.85" fill="#141414"/>
<circle cx="276.89" cy="451.85" r="0.85" fill="#141414"/>
<circle cx="272.59" cy="443.53" r="0.85" fill="#141414"/>
<circle cx="266.19" cy="433.39" r="0.85" fill="#141414"/>
<circle cx="276.57" cy="442.68" r="0.85" fill="#141414"/>
<circle cx="276.53" cy="421.38" r="0.85" fill="#141414"/>
<circle cx="262.65" cy="435.78" r="0.85" fill="#141414"/>
<circle cx="281.87" cy="455.06" r="0.85" fill="#141414"/>
<circle cx="277.73" cy="430.59" r="0.85" fill="#141414"/>
<circle cx="271.48" cy="444.72" r="0.85" fill="#141414"/>
<circle cx="277.84" cy="420.14" r="0.85" fill="#141414"/>
<circle cx="263.1" cy="434.47" r="0.85" fill="#141414"/>
<circle cx="279.45" cy="441.05" r="0.85" fill="#141414"/>
<circle cx="273.71" cy="443.02" r="0.85" fill="#141414"/>
<circle cx="279.67" cy="434.45" r="0.85" fill="#141414"/>
<circle cx="262.39" cy="426.62" r="0.85" fill="#141414"/>
<circle cx="261.82" cy="457.31" r="0.85" fill="#141414"/>
<circle cx="270.94" cy="441.28" r="0.85" fill="#141414"/>
<circle cx="279.43" cy="426.29" r="0.85" fill="#141414"/>
<circle cx="277.9" cy="455.76" r="0.85" fill="#141414"/>
<circle cx="278.86" cy="426.45" r="0.85" fill="#141414"/>
<circle cx="262.12" cy="435.59" r="0.85" fill="#141414"/>
<circle cx="277.16" cy="424.95" r="0.85" fill="#141414"/>
<circle cx="280.17" cy="431.29" r="0.85" fill="#141414"/>
<circle cx="256.8" cy="444.16" r="0.85" fill="#141414"/>
<circle cx="276.89" cy="436.28" r="0.85" fill="#141414"/>
<circle cx="275.56" cy="449.74" r="0.85" fill="#141414"/>
<circle cx="261" cy="421.88" r="0.85" fill="#141414"/>
<circle cx="273.51" cy="434.26" r="0.85" fill="#141414"/>
<circle cx="260.23" cy="439.65" r="0.85" fill="#141414"/>
<circle cx="275.58" cy="447.67" r="0.85" fill="#141414"/>
<circle cx="267.36" cy="427.22" r="0.85" fill="#141414"/>
<circle cx="277.15" cy="475.69" r="0.85" fill="#141414"/>
<circle cx="260.97" cy="461.95" r="0.85" fill="#141414"/>
<circle cx="279.69" cy="465.81" r="0.85" fill="#141414"/>
<circle cx="269.12" cy="459.68" r="0.85" fill="#141414"/>
<circle cx="271.02" cy="467.88" r="0.85" fill="#141414"/>
<circle cx="259.82" cy="473.65" r="0.85" fill="#141414"/>
<circle cx="274.17" cy="473.82" r="0.85" fill="#141414"/>
<circle cx="270.32" cy="470.16" r="0.85" fill="#141414"/>
<circle cx="268.99" cy="469.37" r="0.85" fill="#141414"/>
<circle cx="255.66" cy="474.46" r="0.85" fill="#141414"/>
<circle cx="264.95" cy="457.43" r="0.85" fill="#141414"/>
<circle cx="272.24" cy="475.32" r="0.85" fill="#141414"/>
<circle cx="258.8" cy="461.64" r="0.85" fill="#141414"/>
<circle cx="264.13" cy="465.46" r="0.85" fill="#141414"/>
<circle cx="254.98" cy="467.02" r="0.85" fill="#141414"/>
<circle cx="282.33" cy="476.78" r="0.85" fill="#141414"/>
<circle cx="268.11" cy="460.06" r="0.85" fill="#141414"/>
<circle cx="261.78" cy="466.06" r="0.85" fill="#141414"/>
<circle cx="266.41" cy="461.8" r="0.85" fill="#141414"/>
<circle cx="276.04" cy="458.45" r="0.85" fill="#141414"/>
<circle cx="281.57" cy="461.01" r="0.85" fill="#141414"/>
<circle cx="255.47" cy="472.35" r="0.85" fill="#141414"/>
<circle cx="259.5" cy="473.41" r="0.85" fill="#141414"/>
<circle cx="255.84" cy="475.77" r="0.85" fill="#141414"/>
<circle cx="278.95" cy="466.26" r="0.85" fill="#141414"/>
<circle cx="281.11" cy="468.25" r="0.85" fill="#141414"/>
<circle cx="256.21" cy="459.18" r="0.85" fill="#141414"/>
<circle cx="265.61" cy="465.44" r="0.85" fill="#141414"/>
<circle cx="281.45" cy="475.04" r="0.85" fill="#141414"/>
<circle cx="270.32" cy="472.29" r="0.85" fill="#141414"/>
<circle cx="281.37" cy="464.59" r="0.85" fill="#141414"/>
<circle cx="265.49" cy="464" r="0.85" fill="#141414"/>
<circle cx="258.9" cy="495.72" r="0.85" fill="#141414"/>
<circle cx="282.37" cy="478.58" r="0.85" fill="#141414"/>
<circle cx="255.49" cy="503.23" r="0.85" fill="#141414"/>
<circle cx="264.33" cy="502.1" r="0.85" fill="#141414"/>
<circle cx="279.91" cy="480.67" r="0.85" fill="#141414"/>
<circle cx="255.73" cy="482.84" r="0.85" fill="#141414"/>
<circle cx="274.41" cy="484.53" r="0.85" fill="#141414"/>
<circle cx="282.19" cy="489.15" r="0.85" fill="#141414"/>
<circle cx="258.48" cy="508.72" r="0.85" fill="#141414"/>
<circle cx="280.89" cy="485.57" r="0.85" fill="#141414"/>
<circle cx="262.83" cy="488.15" r="0.85" fill="#141414"/>
<circle cx="275.77" cy="490.98" r="0.85" fill="#141414"/>
<circle cx="263.53" cy="507.08" r="0.85" fill="#141414"/>
<circle cx="257.9" cy="502.06" r="0.85" fill="#141414"/>
<circle cx="259.15" cy="494.63" r="0.85" fill="#141414"/>
<circle cx="258.44" cy="502.67" r="0.85" fill="#141414"/>
<circle cx="254.76" cy="399.79" r="0.85" fill="#141414"/>
<circle cx="259.9" cy="398.65" r="0.85" fill="#141414"/>
<circle cx="280.56" cy="418.25" r="0.85" fill="#141414"/>
<circle cx="280.74" cy="412.94" r="0.85" fill="#141414"/>
<circle cx="279.46" cy="394.34" r="0.85" fill="#141414"/>
<circle cx="267.01" cy="415.26" r="0.85" fill="#141414"/>
<circle cx="280.59" cy="416.49" r="0.85" fill="#141414"/>
<circle cx="272.12" cy="395.05" r="0.85" fill="#141414"/>
<circle cx="263.98" cy="406.27" r="0.85" fill="#141414"/>
<circle cx="267.87" cy="395.6" r="0.85" fill="#141414"/>
<circle cx="258.43" cy="401.21" r="0.85" fill="#141414"/>
<circle cx="256" cy="412.91" r="0.85" fill="#141414"/>
<circle cx="270.01" cy="398.75" r="0.85" fill="#141414"/>
<circle cx="278.95" cy="415.12" r="0.85" fill="#141414"/>
<circle cx="266.01" cy="411.62" r="0.85" fill="#141414"/>
<circle cx="262.05" cy="414.8" r="0.85" fill="#141414"/>
<circle cx="263.83" cy="395.13" r="0.85" fill="#141414"/>
<circle cx="268.25" cy="414.45" r="0.85" fill="#141414"/>
<circle cx="279.87" cy="410.13" r="0.85" fill="#141414"/>
<circle cx="282" cy="416" r="0.85" fill="#141414"/>
<circle cx="279.64" cy="417.65" r="0.85" fill="#141414"/>
<circle cx="260.35" cy="400.05" r="0.85" fill="#141414"/>
<circle cx="262.47" cy="405.55" r="0.85" fill="#141414"/>
<circle cx="260.09" cy="411.87" r="0.85" fill="#141414"/>
<circle cx="282.35" cy="408.8" r="0.85" fill="#141414"/>
<circle cx="280.49" cy="390.57" r="0.85" fill="#141414"/>
<circle cx="262.56" cy="416.48" r="0.85" fill="#141414"/>
<circle cx="256.02" cy="393.5" r="0.85" fill="#141414"/>
<circle cx="262.68" cy="398.38" r="0.85" fill="#141414"/>
<circle cx="254.85" cy="391.12" r="0.85" fill="#141414"/>
<circle cx="264.01" cy="396.06" r="0.85" fill="#141414"/>
<circle cx="254.45" cy="415.25" r="0.85" fill="#141414"/>
<circle cx="269.25" cy="395.34" r="0.85" fill="#141414"/>
<circle cx="266.67" cy="413.94" r="0.85" fill="#141414"/>
<circle cx="260.56" cy="393.04" r="0.85" fill="#141414"/>
<circle cx="258.29" cy="402.84" r="0.85" fill="#141414"/>
<circle cx="276.13" cy="414.1" r="0.85" fill="#141414"/>
<circle cx="259.95" cy="398.81" r="0.85" fill="#141414"/>
<circle cx="256.87" cy="417" r="0.85" fill="#141414"/>
<circle cx="268.37" cy="401.77" r="0.85" fill="#141414"/>
<circle cx="260.21" cy="411.4" r="0.85" fill="#141414"/>
<circle cx="274.36" cy="401.66" r="0.85" fill="#141414"/>
<circle cx="259.1" cy="378.3" r="0.85" fill="#141414"/>
<circle cx="308.14" cy="462.93" r="0.85" fill="#141414"/>
<circle cx="293.55" cy="486.26" r="0.85" fill="#141414"/>
<circle cx="303.21" cy="465.95" r="0.85" fill="#141414"/>
<circle cx="293.26" cy="466.37" r="0.85" fill="#141414"/>
<circle cx="301.15" cy="462.97" r="0.85" fill="#141414"/>
<circle cx="316.08" cy="461.77" r="0.85" fill="#141414"/>
<circle cx="292.14" cy="475.13" r="0.85" fill="#141414"/>
<circle cx="305.14" cy="459.15" r="0.85" fill="#141414"/>
<circle cx="299.21" cy="460.62" r="0.85" fill="#141414"/>
<circle cx="315.15" cy="486.89" r="0.85" fill="#141414"/>
<circle cx="296.31" cy="479.95" r="0.85" fill="#141414"/>
<circle cx="308.48" cy="479.8" r="0.85" fill="#141414"/>
<circle cx="306.36" cy="493.83" r="0.85" fill="#141414"/>
<circle cx="306.24" cy="476.94" r="0.85" fill="#141414"/>
<circle cx="311.85" cy="489.39" r="0.85" fill="#141414"/>
<circle cx="316.11" cy="462.74" r="0.85" fill="#141414"/>
<circle cx="311.76" cy="481.72" r="0.85" fill="#141414"/>
<circle cx="312.89" cy="479.4" r="0.85" fill="#141414"/>
<circle cx="316.31" cy="491.67" r="0.85" fill="#141414"/>
<circle cx="305.65" cy="457.47" r="0.85" fill="#141414"/>
<circle cx="306.66" cy="474.35" r="0.85" fill="#141414"/>
<circle cx="292.28" cy="473.43" r="0.85" fill="#141414"/>
<circle cx="298.01" cy="456.96" r="0.85" fill="#141414"/>
<circle cx="294.6" cy="487.03" r="0.85" fill="#141414"/>
<circle cx="314.74" cy="484.42" r="0.85" fill="#141414"/>
<circle cx="294.42" cy="492.86" r="0.85" fill="#141414"/>
<circle cx="297.2" cy="467.24" r="0.85" fill="#141414"/>
<circle cx="308.6" cy="493.33" r="0.85" fill="#141414"/>
<circle cx="306.45" cy="471.93" r="0.85" fill="#141414"/>
<circle cx="294.6" cy="467.1" r="0.85" fill="#141414"/>
<circle cx="311.92" cy="460.71" r="0.85" fill="#141414"/>
<circle cx="295.17" cy="492.28" r="0.85" fill="#141414"/>
<circle cx="305.82" cy="475.11" r="0.85" fill="#141414"/>
<circle cx="295.14" cy="483.3" r="0.85" fill="#141414"/>
<circle cx="295.56" cy="478.48" r="0.85" fill="#141414"/>
<circle cx="315.98" cy="471.35" r="0.85" fill="#141414"/>
<circle cx="307.85" cy="488.37" r="0.85" fill="#141414"/>
<circle cx="296.33" cy="465.42" r="0.85" fill="#141414"/>
<circle cx="318.14" cy="462.38" r="0.85" fill="#141414"/>
<circle cx="303.56" cy="479.12" r="0.85" fill="#141414"/>
<circle cx="306.52" cy="461.85" r="0.85" fill="#141414"/>
<circle cx="318.24" cy="478.86" r="0.85" fill="#141414"/>
<circle cx="301.25" cy="464.26" r="0.85" fill="#141414"/>
<circle cx="301.15" cy="484.8" r="0.85" fill="#141414"/>
<circle cx="319.37" cy="477.33" r="0.85" fill="#141414"/>
<circle cx="317.44" cy="463.21" r="0.85" fill="#141414"/>
<circle cx="315.6" cy="462.8" r="0.85" fill="#141414"/>
<circle cx="306.29" cy="491.96" r="0.85" fill="#141414"/>
<circle cx="318.05" cy="457.33" r="0.85" fill="#141414"/>
<circle cx="303.6" cy="484.46" r="0.85" fill="#141414"/>
<circle cx="301.98" cy="469.78" r="0.85" fill="#141414"/>
<circle cx="293.65" cy="473.68" r="0.85" fill="#141414"/>
<circle cx="305.93" cy="477.43" r="0.85" fill="#141414"/>
<circle cx="295.63" cy="493.21" r="0.85" fill="#141414"/>
<circle cx="313.6" cy="456.88" r="0.85" fill="#141414"/>
<circle cx="309.56" cy="458.13" r="0.85" fill="#141414"/>
<circle cx="316.64" cy="463.02" r="0.85" fill="#141414"/>
<circle cx="292.67" cy="460.13" r="0.85" fill="#141414"/>
<circle cx="299.19" cy="469.44" r="0.85" fill="#141414"/>
<circle cx="299.41" cy="468.03" r="0.85" fill="#141414"/>
<circle cx="317.77" cy="473.24" r="0.85" fill="#141414"/>
<circle cx="298.77" cy="470.22" r="0.85" fill="#141414"/>
<circle cx="303.93" cy="474.08" r="0.85" fill="#141414"/>
<circle cx="299.81" cy="457.6" r="0.85" fill="#141414"/>
<circle cx="309.96" cy="482.31" r="0.85" fill="#141414"/>
<circle cx="308.46" cy="489.4" r="0.85" fill="#141414"/>
<circle cx="306.19" cy="457.4" r="0.85" fill="#141414"/>
<circle cx="304.85" cy="483.73" r="0.85" fill="#141414"/>
<circle cx="295.89" cy="473.57" r="0.85" fill="#141414"/>
<circle cx="295.4" cy="489.26" r="0.85" fill="#141414"/>
<circle cx="303.16" cy="482.77" r="0.85" fill="#141414"/>
<circle cx="298.56" cy="482.97" r="0.85" fill="#141414"/>
<circle cx="307.11" cy="490.65" r="0.85" fill="#141414"/>
<circle cx="308.9" cy="461.85" r="0.85" fill="#141414"/>
<circle cx="310.04" cy="472.17" r="0.85" fill="#141414"/>
<circle cx="311.73" cy="486.31" r="0.85" fill="#141414"/>
<circle cx="307.15" cy="476.36" r="0.85" fill="#141414"/>
<circle cx="304.92" cy="470.54" r="0.85" fill="#141414"/>
<circle cx="298.53" cy="482.12" r="0.85" fill="#141414"/>
<circle cx="306.15" cy="485.52" r="0.85" fill="#141414"/>
<circle cx="308.22" cy="479.34" r="0.85" fill="#141414"/>
<circle cx="301.64" cy="493.56" r="0.85" fill="#141414"/>
<circle cx="298.43" cy="461" r="0.85" fill="#141414"/>
<circle cx="305.56" cy="472.69" r="0.85" fill="#141414"/>
<circle cx="319.55" cy="483.1" r="0.85" fill="#141414"/>
<circle cx="313.47" cy="482.69" r="0.85" fill="#141414"/>
<circle cx="293.58" cy="487.94" r="0.85" fill="#141414"/>
<circle cx="304.11" cy="460.64" r="0.85" fill="#141414"/>
<circle cx="302.64" cy="491.64" r="0.85" fill="#141414"/>
<circle cx="312.44" cy="477.16" r="0.85" fill="#141414"/>
<circle cx="298.05" cy="489.83" r="0.85" fill="#141414"/>
<circle cx="312.53" cy="457.27" r="0.85" fill="#141414"/>
<circle cx="301.2" cy="488.09" r="0.85" fill="#141414"/>
<circle cx="310.74" cy="480.51" r="0.85" fill="#141414"/>
<circle cx="315.67" cy="470.41" r="0.85" fill="#141414"/>
<circle cx="306.3" cy="498.82" r="0.85" fill="#141414"/>
<circle cx="312.66" cy="501.04" r="0.85" fill="#141414"/>
<circle cx="305.1" cy="500.48" r="0.85" fill="#141414"/>
<circle cx="311.68" cy="499.8" r="0.85" fill="#141414"/>
<circle cx="295.29" cy="496.31" r="0.85" fill="#141414"/>
<circle cx="291.82" cy="497.49" r="0.85" fill="#141414"/>
<circle cx="308.22" cy="500.32" r="0.85" fill="#141414"/>
<circle cx="318.85" cy="507.52" r="0.85" fill="#141414"/>
<circle cx="303.49" cy="505.53" r="0.85" fill="#141414"/>
<circle cx="316.31" cy="499.83" r="0.85" fill="#141414"/>
<circle cx="302.4" cy="504.58" r="0.85" fill="#141414"/>
<circle cx="304.61" cy="508.75" r="0.85" fill="#141414"/>
<circle cx="299.96" cy="501.46" r="0.85" fill="#141414"/>
<circle cx="307.36" cy="510.41" r="0.85" fill="#141414"/>
<circle cx="300.78" cy="510.57" r="0.85" fill="#141414"/>
<circle cx="315.66" cy="499.74" r="0.85" fill="#141414"/>
<circle cx="304.22" cy="507.48" r="0.85" fill="#141414"/>
<circle cx="300.27" cy="515.96" r="0.85" fill="#141414"/>
<circle cx="307.93" cy="517.02" r="0.85" fill="#141414"/>
<circle cx="294.18" cy="505.27" r="0.85" fill="#141414"/>
<circle cx="300.83" cy="496.16" r="0.85" fill="#141414"/>
<circle cx="315.34" cy="498.22" r="0.85" fill="#141414"/>
<circle cx="297.46" cy="495.12" r="0.85" fill="#141414"/>
<circle cx="317.38" cy="509.44" r="0.85" fill="#141414"/>
<circle cx="293.04" cy="520.63" r="0.85" fill="#141414"/>
<circle cx="305.72" cy="505.72" r="0.85" fill="#141414"/>
<circle cx="313.51" cy="496.15" r="0.85" fill="#141414"/>
<circle cx="319.85" cy="506.43" r="0.85" fill="#141414"/>
<circle cx="306.29" cy="507" r="0.85" fill="#141414"/>
<circle cx="302.68" cy="502.48" r="0.85" fill="#141414"/>
<circle cx="308.47" cy="511.29" r="0.85" fill="#141414"/>
<circle cx="318.43" cy="511.47" r="0.85" fill="#141414"/>
<circle cx="306.51" cy="502.72" r="0.85" fill="#141414"/>
<circle cx="302.26" cy="518.26" r="0.85" fill="#141414"/>
<circle cx="307.53" cy="510.13" r="0.85" fill="#141414"/>
<circle cx="316.51" cy="505.47" r="0.85" fill="#141414"/>
<circle cx="305.43" cy="494.97" r="0.85" fill="#141414"/>
<circle cx="309.31" cy="509.08" r="0.85" fill="#141414"/>
<circle cx="301.38" cy="494.11" r="0.85" fill="#141414"/>
<circle cx="314.71" cy="506.65" r="0.85" fill="#141414"/>
<circle cx="300.67" cy="516.33" r="0.85" fill="#141414"/>
<circle cx="314.99" cy="494.59" r="0.85" fill="#141414"/>
<circle cx="294.82" cy="507.13" r="0.85" fill="#141414"/>
<circle cx="311.15" cy="496.85" r="0.85" fill="#141414"/>
<circle cx="319.63" cy="498.84" r="0.85" fill="#141414"/>
<circle cx="303.57" cy="497.02" r="0.85" fill="#141414"/>
<circle cx="299.88" cy="516.71" r="0.85" fill="#141414"/>
<circle cx="305.94" cy="507.15" r="0.85" fill="#141414"/>
<circle cx="296.84" cy="515.86" r="0.85" fill="#141414"/>
<circle cx="308.71" cy="503.96" r="0.85" fill="#141414"/>
<circle cx="319.72" cy="511.42" r="0.85" fill="#141414"/>
<circle cx="292.89" cy="503.79" r="0.85" fill="#141414"/>
<circle cx="313.91" cy="509.85" r="0.85" fill="#141414"/>
<circle cx="311.18" cy="512.67" r="0.85" fill="#141414"/>
<circle cx="300.29" cy="520.81" r="0.85" fill="#141414"/>
<circle cx="308.23" cy="498.26" r="0.85" fill="#141414"/>
<circle cx="297.25" cy="502.94" r="0.85" fill="#141414"/>
<circle cx="307.3" cy="507.52" r="0.85" fill="#141414"/>
<circle cx="309.94" cy="513.76" r="0.85" fill="#141414"/>
<circle cx="319.82" cy="506.62" r="0.85" fill="#141414"/>
<circle cx="303.29" cy="505.46" r="0.85" fill="#141414"/>
<circle cx="296.12" cy="517.65" r="0.85" fill="#141414"/>
<circle cx="294.71" cy="418.77" r="0.85" fill="#141414"/>
<circle cx="296.51" cy="450.85" r="0.85" fill="#141414"/>
<circle cx="314.91" cy="430.3" r="0.85" fill="#141414"/>
<circle cx="314.45" cy="425.9" r="0.85" fill="#141414"/>
<circle cx="292.05" cy="452.69" r="0.85" fill="#141414"/>
<circle cx="300.8" cy="418.23" r="0.85" fill="#141414"/>
<circle cx="301.68" cy="420.91" r="0.85" fill="#141414"/>
<circle cx="299.22" cy="447.47" r="0.85" fill="#141414"/>
<circle cx="317.19" cy="450.88" r="0.85" fill="#141414"/>
<circle cx="301.54" cy="427.39" r="0.85" fill="#141414"/>
<circle cx="302.58" cy="433.83" r="0.85" fill="#141414"/>
<circle cx="316.81" cy="453.06" r="0.85" fill="#141414"/>
<circle cx="318.76" cy="427.37" r="0.85" fill="#141414"/>
<circle cx="309.19" cy="434.33" r="0.85" fill="#141414"/>
<circle cx="292.94" cy="443.59" r="0.85" fill="#141414"/>
<circle cx="315.8" cy="410.44" r="0.85" fill="#141414"/>
<circle cx="317.05" cy="440.4" r="0.85" fill="#141414"/>
<circle cx="300.26" cy="416.03" r="0.85" fill="#141414"/>
<circle cx="318.77" cy="426.4" r="0.85" fill="#141414"/>
<circle cx="318.48" cy="431.61" r="0.85" fill="#141414"/>
<circle cx="302.69" cy="443.9" r="0.85" fill="#141414"/>
<circle cx="297.94" cy="420.77" r="0.85" fill="#141414"/>
<circle cx="316.38" cy="440.68" r="0.85" fill="#141414"/>
<circle cx="314.06" cy="432.15" r="0.85" fill="#141414"/>
<circle cx="296.59" cy="443.88" r="0.85" fill="#141414"/>
<circle cx="296.96" cy="438.28" r="0.85" fill="#141414"/>
<circle cx="299.9" cy="408.45" r="0.85" fill="#141414"/>
<circle cx="294.94" cy="428.4" r="0.85" fill="#141414"/>
<circle cx="302.57" cy="429.75" r="0.85" fill="#141414"/>
<circle cx="293.55" cy="436.1" r="0.85" fill="#141414"/>
<circle cx="300" cy="520.2" r="0.85" fill="#141414"/>
<circle cx="313" cy="519" r="0.85" fill="#141414"/>
<path d="M246.0 526.5 V370.0 H328.4" fill="none" stroke="#3a3a3a" stroke-width="1.1"/>
<path d="M328.4 370.0 V526.5 H246.0" fill="none" stroke="#1a1a1a" stroke-width="1.6"/>
<text transform="translate(242 513.5) scale(1 1.1)" font-size="9.6" text-anchor="end" font-weight="bold" fill="#4d4d4d" font-family='"Liberation Sans", sans-serif' stroke="#4d4d4d" stroke-width="0.08">20</text>
<text transform="translate(242 472.1) scale(1 1.1)" font-size="9.6" text-anchor="end" font-weight="bold" fill="#4d4d4d" font-family='"Liberation Sans", sans-serif' stroke="#4d4d4d" stroke-width="0.08">40</text>
<text transform="translate(242 430.7) scale(1 1.1)" font-size="9.6" text-anchor="end" font-weight="bold" fill="#4d4d4d" font-family='"Liberation Sans", sans-serif' stroke="#4d4d4d" stroke-width="0.08">60</text>
<text transform="translate(242 389.3) scale(1 1.1)" font-size="9.6" text-anchor="end" font-weight="bold" fill="#4d4d4d" font-family='"Liberation Sans", sans-serif' stroke="#4d4d4d" stroke-width="0.08">80</text>
<text transform="translate(268.5 539.3) scale(1 1.08)" font-size="10.6" text-anchor="middle" font-weight="bold" fill="#4d4d4d" font-family='"Liberation Sans", sans-serif' stroke="#4d4d4d" stroke-width="0.08">BOT</text>
<text transform="translate(305.8 539.3) scale(1 1.08)" font-size="10.6" text-anchor="middle" font-weight="bold" fill="#4d4d4d" font-family='"Liberation Sans", sans-serif' stroke="#4d4d4d" stroke-width="0.08">OC</text>
<text transform="translate(288.4 365.3) scale(1 1.06)" font-size="10.7" text-anchor="middle" font-weight="bold" fill="#000" font-family='"Liberation Serif", serif' >Age</text>
<rect x="359.8" y="370.7" width="76.7" height="155.2" fill="#ffffff" stroke="none" stroke-width="0" />
<line x1="359.8" y1="505.15" x2="436.5" y2="505.15" stroke="#e6e6e6" stroke-width="0.7"/>
<line x1="359.8" y1="475.45" x2="436.5" y2="475.45" stroke="#e6e6e6" stroke-width="0.7"/>
<line x1="359.8" y1="445.75" x2="436.5" y2="445.75" stroke="#e6e6e6" stroke-width="0.7"/>
<line x1="359.8" y1="416.05" x2="436.5" y2="416.05" stroke="#e6e6e6" stroke-width="0.7"/>
<line x1="359.8" y1="386.35" x2="436.5" y2="386.35" stroke="#e6e6e6" stroke-width="0.7"/>
<line x1="359.8" y1="520" x2="436.5" y2="520" stroke="#dcdcdc" stroke-width="1.0"/>
<line x1="359.8" y1="490.3" x2="436.5" y2="490.3" stroke="#dcdcdc" stroke-width="1.0"/>
<line x1="359.8" y1="460.6" x2="436.5" y2="460.6" stroke="#dcdcdc" stroke-width="1.0"/>
<line x1="359.8" y1="430.9" x2="436.5" y2="430.9" stroke="#dcdcdc" stroke-width="1.0"/>
<line x1="359.8" y1="401.2" x2="436.5" y2="401.2" stroke="#dcdcdc" stroke-width="1.0"/>
<line x1="359.8" y1="371.5" x2="436.5" y2="371.5" stroke="#dcdcdc" stroke-width="1.0"/>
<line x1="380.8" y1="370.7" x2="380.8" y2="525.9" stroke="#dcdcdc" stroke-width="1.0"/>
<line x1="415.4" y1="370.7" x2="415.4" y2="525.9" stroke="#dcdcdc" stroke-width="1.0"/>
<line x1="380.8" y1="443.67" x2="380.8" y2="378.03" stroke="#333" stroke-width="0.9"/>
<line x1="380.8" y1="507.91" x2="380.8" y2="517.62" stroke="#333" stroke-width="0.9"/>
<rect x="367.7" y="443.67" width="26.2" height="64.24" fill="#996ab0" stroke="#2a2a2a" stroke-width="0.9" />
<line x1="367.7" y1="482.88" x2="393.9" y2="482.88" stroke="#1a1a1a" stroke-width="1.5"/>
<line x1="415.4" y1="506.04" x2="415.4" y2="491.79" stroke="#333" stroke-width="0.9"/>
<line x1="415.4" y1="512.58" x2="415.4" y2="519.7" stroke="#333" stroke-width="0.9"/>
<rect x="402.3" y="506.04" width="26.2" height="6.53" fill="#f9ed74" stroke="#2a2a2a" stroke-width="0.9" />
<line x1="402.3" y1="509.61" x2="428.5" y2="509.61" stroke="#1a1a1a" stroke-width="1.5"/>
<circle cx="415.4" cy="393.48" r="1.9" fill="#1e1e1e"/>
<circle cx="415.4" cy="394.07" r="1.9" fill="#1e1e1e"/>
<circle cx="415.4" cy="392.88" r="1.9" fill="#1e1e1e"/>
<circle cx="415.4" cy="426.15" r="1.9" fill="#1e1e1e"/>
<circle cx="415.4" cy="437.73" r="1.9" fill="#1e1e1e"/>
<circle cx="415.4" cy="442.78" r="1.9" fill="#1e1e1e"/>
<circle cx="415.4" cy="443.67" r="1.9" fill="#1e1e1e"/>
<circle cx="415.4" cy="444.86" r="1.9" fill="#1e1e1e"/>
<circle cx="415.4" cy="446.34" r="1.9" fill="#1e1e1e"/>
<circle cx="415.4" cy="447.83" r="1.9" fill="#1e1e1e"/>
<circle cx="415.4" cy="452.28" r="1.9" fill="#1e1e1e"/>
<circle cx="415.4" cy="455.25" r="1.9" fill="#1e1e1e"/>
<circle cx="415.4" cy="460.6" r="1.9" fill="#1e1e1e"/>
<circle cx="415.4" cy="462.08" r="1.9" fill="#1e1e1e"/>
<circle cx="415.4" cy="468.02" r="1.9" fill="#1e1e1e"/>
<circle cx="415.4" cy="472.48" r="1.9" fill="#1e1e1e"/>
<circle cx="415.4" cy="480.5" r="1.9" fill="#1e1e1e"/>
<circle cx="415.4" cy="484.36" r="1.9" fill="#1e1e1e"/>
<circle cx="415.4" cy="487.33" r="1.9" fill="#1e1e1e"/>
<circle cx="389.34" cy="499.99" r="0.85" fill="#141414"/>
<circle cx="374.12" cy="485.35" r="0.85" fill="#141414"/>
<circle cx="375.13" cy="495.63" r="0.85" fill="#141414"/>
<circle cx="368.61" cy="492.68" r="0.85" fill="#141414"/>
<circle cx="376.65" cy="465.24" r="0.85" fill="#141414"/>
<circle cx="386.19" cy="497.9" r="0.85" fill="#141414"/>
<circle cx="374.77" cy="501.96" r="0.85" fill="#141414"/>
<circle cx="371.05" cy="454.27" r="0.85" fill="#141414"/>
<circle cx="389.61" cy="479.43" r="0.85" fill="#141414"/>
<circle cx="371.87" cy="456.2" r="0.85" fill="#141414"/>
<circle cx="386.63" cy="485.24" r="0.85" fill="#141414"/>
<circle cx="392.81" cy="483.7" r="0.85" fill="#141414"/>
<circle cx="392.61" cy="494.55" r="0.85" fill="#141414"/>
<circle cx="373.65" cy="475.48" r="0.85" fill="#141414"/>
<circle cx="371.13" cy="478.83" r="0.85" fill="#141414"/>
<circle cx="374.53" cy="462.53" r="0.85" fill="#141414"/>
<circle cx="383.09" cy="450.12" r="0.85" fill="#141414"/>
<circle cx="374.15" cy="484.27" r="0.85" fill="#141414"/>
<circle cx="373.27" cy="468.84" r="0.85" fill="#141414"/>
<circle cx="370.92" cy="451.87" r="0.85" fill="#141414"/>
<circle cx="381.92" cy="474.95" r="0.85" fill="#141414"/>
<circle cx="387.92" cy="490.54" r="0.85" fill="#141414"/>
<circle cx="384.93" cy="483.19" r="0.85" fill="#141414"/>
<circle cx="375.84" cy="471.44" r="0.85" fill="#141414"/>
<circle cx="369.95" cy="482.86" r="0.85" fill="#141414"/>
<circle cx="390" cy="496.54" r="0.85" fill="#141414"/>
<circle cx="385.06" cy="487.29" r="0.85" fill="#141414"/>
<circle cx="382.42" cy="500.91" r="0.85" fill="#141414"/>
<circle cx="380.81" cy="484.69" r="0.85" fill="#141414"/>
<circle cx="369.43" cy="488.84" r="0.85" fill="#141414"/>
<circle cx="373.63" cy="487.92" r="0.85" fill="#141414"/>
<circle cx="386.48" cy="499.81" r="0.85" fill="#141414"/>
<circle cx="378.27" cy="489.77" r="0.85" fill="#141414"/>
<circle cx="388" cy="449.52" r="0.85" fill="#141414"/>
<circle cx="390.27" cy="451.2" r="0.85" fill="#141414"/>
<circle cx="374.94" cy="516.34" r="0.85" fill="#141414"/>
<circle cx="385.51" cy="517.34" r="0.85" fill="#141414"/>
<circle cx="376.91" cy="511.18" r="0.85" fill="#141414"/>
<circle cx="384.97" cy="513.62" r="0.85" fill="#141414"/>
<circle cx="374.21" cy="510.83" r="0.85" fill="#141414"/>
<circle cx="376.93" cy="509.4" r="0.85" fill="#141414"/>
<circle cx="372.46" cy="511.52" r="0.85" fill="#141414"/>
<circle cx="391.61" cy="516.5" r="0.85" fill="#141414"/>
<circle cx="386.37" cy="510.49" r="0.85" fill="#141414"/>
<circle cx="368.75" cy="517.23" r="0.85" fill="#141414"/>
<circle cx="372.89" cy="516.05" r="0.85" fill="#141414"/>
<circle cx="377.68" cy="514.68" r="0.85" fill="#141414"/>
<circle cx="375.85" cy="517.24" r="0.85" fill="#141414"/>
<circle cx="372.41" cy="511.42" r="0.85" fill="#141414"/>
<circle cx="382.64" cy="509.47" r="0.85" fill="#141414"/>
<circle cx="374.37" cy="510.66" r="0.85" fill="#141414"/>
<circle cx="385.63" cy="513.4" r="0.85" fill="#141414"/>
<circle cx="367.73" cy="514.23" r="0.85" fill="#141414"/>
<circle cx="388.04" cy="509.52" r="0.85" fill="#141414"/>
<circle cx="368.83" cy="514.84" r="0.85" fill="#141414"/>
<circle cx="383.61" cy="509.33" r="0.85" fill="#141414"/>
<circle cx="374.1" cy="517.16" r="0.85" fill="#141414"/>
<circle cx="388.44" cy="444.13" r="0.85" fill="#141414"/>
<circle cx="391.66" cy="444.02" r="0.85" fill="#141414"/>
<circle cx="369.96" cy="443.37" r="0.85" fill="#141414"/>
<circle cx="378.01" cy="443.44" r="0.85" fill="#141414"/>
<circle cx="389.41" cy="443.38" r="0.85" fill="#141414"/>
<circle cx="370.06" cy="443.93" r="0.85" fill="#141414"/>
<circle cx="378.81" cy="443.14" r="0.85" fill="#141414"/>
<circle cx="385.82" cy="443.16" r="0.85" fill="#141414"/>
<circle cx="369.2" cy="378.8" r="0.85" fill="#141414"/>
<circle cx="375.6" cy="378" r="0.85" fill="#141414"/>
<circle cx="384.9" cy="379.5" r="0.85" fill="#141414"/>
<circle cx="370.7" cy="382.2" r="0.85" fill="#141414"/>
<circle cx="383.7" cy="382.9" r="0.85" fill="#141414"/>
<circle cx="372.2" cy="387" r="0.85" fill="#141414"/>
<circle cx="389.1" cy="387.4" r="0.85" fill="#141414"/>
<circle cx="393.8" cy="386.4" r="0.85" fill="#141414"/>
<circle cx="381.6" cy="391.6" r="0.85" fill="#141414"/>
<circle cx="393.1" cy="393.1" r="0.85" fill="#141414"/>
<circle cx="367.3" cy="401.2" r="0.85" fill="#141414"/>
<circle cx="376.2" cy="402.1" r="0.85" fill="#141414"/>
<circle cx="373.4" cy="404.6" r="0.85" fill="#141414"/>
<circle cx="386.4" cy="405" r="0.85" fill="#141414"/>
<circle cx="392.7" cy="408" r="0.85" fill="#141414"/>
<circle cx="370.7" cy="412.5" r="0.85" fill="#141414"/>
<circle cx="383.1" cy="418.8" r="0.85" fill="#141414"/>
<circle cx="378.9" cy="421.5" r="0.85" fill="#141414"/>
<circle cx="373.7" cy="421.5" r="0.85" fill="#141414"/>
<circle cx="374.4" cy="423.6" r="0.85" fill="#141414"/>
<circle cx="374.1" cy="424.5" r="0.85" fill="#141414"/>
<circle cx="384.6" cy="422.2" r="0.85" fill="#141414"/>
<circle cx="391.2" cy="432.5" r="0.85" fill="#141414"/>
<circle cx="390.6" cy="437.9" r="0.85" fill="#141414"/>
<circle cx="393.8" cy="436.7" r="0.85" fill="#141414"/>
<circle cx="381.6" cy="439.4" r="0.85" fill="#141414"/>
<circle cx="424.05" cy="514.52" r="0.85" fill="#141414"/>
<circle cx="414.16" cy="515.34" r="0.85" fill="#141414"/>
<circle cx="420.59" cy="519.6" r="0.85" fill="#141414"/>
<circle cx="415.71" cy="516.82" r="0.85" fill="#141414"/>
<circle cx="405.64" cy="513.11" r="0.85" fill="#141414"/>
<circle cx="403.44" cy="514.34" r="0.85" fill="#141414"/>
<circle cx="423.41" cy="514.78" r="0.85" fill="#141414"/>
<circle cx="416.62" cy="518.06" r="0.85" fill="#141414"/>
<circle cx="419" cy="512.8" r="0.85" fill="#141414"/>
<circle cx="408.84" cy="515.96" r="0.85" fill="#141414"/>
<circle cx="411.68" cy="519.56" r="0.85" fill="#141414"/>
<circle cx="407.58" cy="516.94" r="0.85" fill="#141414"/>
<circle cx="405.88" cy="517.69" r="0.85" fill="#141414"/>
<circle cx="419.86" cy="514.75" r="0.85" fill="#141414"/>
<circle cx="408.63" cy="518.23" r="0.85" fill="#141414"/>
<circle cx="413.96" cy="516.17" r="0.85" fill="#141414"/>
<circle cx="411.51" cy="513.05" r="0.85" fill="#141414"/>
<circle cx="425.48" cy="517.78" r="0.85" fill="#141414"/>
<circle cx="417.06" cy="518.95" r="0.85" fill="#141414"/>
<circle cx="423.66" cy="517.52" r="0.85" fill="#141414"/>
<circle cx="422.23" cy="515.93" r="0.85" fill="#141414"/>
<circle cx="419.76" cy="518.74" r="0.85" fill="#141414"/>
<circle cx="414.38" cy="515.55" r="0.85" fill="#141414"/>
<circle cx="424.08" cy="514.31" r="0.85" fill="#141414"/>
<circle cx="409.88" cy="519.15" r="0.85" fill="#141414"/>
<circle cx="407.71" cy="517.32" r="0.85" fill="#141414"/>
<circle cx="409.66" cy="519.55" r="0.85" fill="#141414"/>
<circle cx="420.68" cy="518.54" r="0.85" fill="#141414"/>
<circle cx="405.26" cy="516.67" r="0.85" fill="#141414"/>
<circle cx="414.58" cy="517.59" r="0.85" fill="#141414"/>
<circle cx="406.7" cy="517.3" r="0.85" fill="#141414"/>
<circle cx="402.58" cy="519.47" r="0.85" fill="#141414"/>
<circle cx="421.96" cy="512.63" r="0.85" fill="#141414"/>
<circle cx="421.09" cy="519.38" r="0.85" fill="#141414"/>
<circle cx="417.07" cy="512.72" r="0.85" fill="#141414"/>
<circle cx="415.11" cy="519.19" r="0.85" fill="#141414"/>
<circle cx="407.27" cy="516.78" r="0.85" fill="#141414"/>
<circle cx="402.52" cy="515.97" r="0.85" fill="#141414"/>
<circle cx="419.19" cy="513.17" r="0.85" fill="#141414"/>
<circle cx="426.8" cy="515.34" r="0.85" fill="#141414"/>
<circle cx="408.89" cy="515.15" r="0.85" fill="#141414"/>
<circle cx="405.93" cy="518.17" r="0.85" fill="#141414"/>
<circle cx="422.59" cy="519.79" r="0.85" fill="#141414"/>
<circle cx="410.06" cy="513.77" r="0.85" fill="#141414"/>
<circle cx="419.02" cy="518.62" r="0.85" fill="#141414"/>
<circle cx="426.58" cy="513.72" r="0.85" fill="#141414"/>
<circle cx="422.86" cy="518.75" r="0.85" fill="#141414"/>
<circle cx="421.75" cy="513.83" r="0.85" fill="#141414"/>
<circle cx="407.14" cy="517.57" r="0.85" fill="#141414"/>
<circle cx="410.69" cy="513.87" r="0.85" fill="#141414"/>
<circle cx="416.74" cy="517.26" r="0.85" fill="#141414"/>
<circle cx="424.08" cy="517.26" r="0.85" fill="#141414"/>
<circle cx="403.38" cy="518.22" r="0.85" fill="#141414"/>
<circle cx="418.76" cy="515.79" r="0.85" fill="#141414"/>
<circle cx="420.79" cy="513.91" r="0.85" fill="#141414"/>
<circle cx="427.06" cy="513.28" r="0.85" fill="#141414"/>
<circle cx="415.39" cy="516.33" r="0.85" fill="#141414"/>
<circle cx="410.15" cy="518.83" r="0.85" fill="#141414"/>
<circle cx="404.4" cy="515.69" r="0.85" fill="#141414"/>
<circle cx="406.59" cy="514.89" r="0.85" fill="#141414"/>
<circle cx="427.71" cy="516.71" r="0.85" fill="#141414"/>
<circle cx="403.35" cy="519.33" r="0.85" fill="#141414"/>
<circle cx="407.3" cy="516.74" r="0.85" fill="#141414"/>
<circle cx="402.37" cy="514.63" r="0.85" fill="#141414"/>
<circle cx="424.71" cy="513.76" r="0.85" fill="#141414"/>
<circle cx="413.45" cy="514.16" r="0.85" fill="#141414"/>
<circle cx="419.63" cy="517.9" r="0.85" fill="#141414"/>
<circle cx="413.34" cy="516.18" r="0.85" fill="#141414"/>
<circle cx="413.79" cy="517.49" r="0.85" fill="#141414"/>
<circle cx="423.94" cy="515.05" r="0.85" fill="#141414"/>
<circle cx="406.61" cy="513.29" r="0.85" fill="#141414"/>
<circle cx="413.91" cy="517.8" r="0.85" fill="#141414"/>
<circle cx="411.42" cy="515.82" r="0.85" fill="#141414"/>
<circle cx="404.53" cy="518.55" r="0.85" fill="#141414"/>
<circle cx="414.36" cy="517.6" r="0.85" fill="#141414"/>
<circle cx="426.11" cy="512.79" r="0.85" fill="#141414"/>
<circle cx="427.83" cy="513.57" r="0.85" fill="#141414"/>
<circle cx="418.54" cy="512.86" r="0.85" fill="#141414"/>
<circle cx="403.87" cy="513.98" r="0.85" fill="#141414"/>
<circle cx="418.26" cy="514.98" r="0.85" fill="#141414"/>
<circle cx="417.26" cy="517.79" r="0.85" fill="#141414"/>
<circle cx="414.9" cy="512.93" r="0.85" fill="#141414"/>
<circle cx="410.14" cy="515.19" r="0.85" fill="#141414"/>
<circle cx="425.49" cy="517.45" r="0.85" fill="#141414"/>
<circle cx="407.25" cy="519.79" r="0.85" fill="#141414"/>
<circle cx="414.02" cy="514.96" r="0.85" fill="#141414"/>
<circle cx="419.6" cy="519.37" r="0.85" fill="#141414"/>
<circle cx="417.52" cy="517.24" r="0.85" fill="#141414"/>
<circle cx="416.19" cy="516.91" r="0.85" fill="#141414"/>
<circle cx="412.68" cy="515.81" r="0.85" fill="#141414"/>
<circle cx="407.03" cy="519.15" r="0.85" fill="#141414"/>
<circle cx="416.66" cy="513.39" r="0.85" fill="#141414"/>
<circle cx="424.89" cy="519.17" r="0.85" fill="#141414"/>
<circle cx="404.79" cy="518.12" r="0.85" fill="#141414"/>
<circle cx="408.89" cy="516.06" r="0.85" fill="#141414"/>
<circle cx="416.82" cy="516.37" r="0.85" fill="#141414"/>
<circle cx="417.3" cy="518.32" r="0.85" fill="#141414"/>
<circle cx="415.75" cy="519.16" r="0.85" fill="#141414"/>
<circle cx="404.4" cy="515.63" r="0.85" fill="#141414"/>
<circle cx="404.22" cy="516.97" r="0.85" fill="#141414"/>
<circle cx="424.92" cy="516.74" r="0.85" fill="#141414"/>
<circle cx="421.02" cy="515.91" r="0.85" fill="#141414"/>
<circle cx="405.3" cy="514.38" r="0.85" fill="#141414"/>
<circle cx="421.21" cy="512.64" r="0.85" fill="#141414"/>
<circle cx="424.05" cy="519.24" r="0.85" fill="#141414"/>
<circle cx="406.79" cy="517.09" r="0.85" fill="#141414"/>
<circle cx="417.05" cy="512.87" r="0.85" fill="#141414"/>
<circle cx="405.88" cy="514.25" r="0.85" fill="#141414"/>
<circle cx="403.81" cy="514.24" r="0.85" fill="#141414"/>
<circle cx="412.06" cy="518.24" r="0.85" fill="#141414"/>
<circle cx="417.87" cy="519.89" r="0.85" fill="#141414"/>
<circle cx="410.16" cy="518.42" r="0.85" fill="#141414"/>
<circle cx="413.46" cy="514.75" r="0.85" fill="#141414"/>
<circle cx="418.57" cy="513.4" r="0.85" fill="#141414"/>
<circle cx="417.05" cy="513.52" r="0.85" fill="#141414"/>
<circle cx="425.11" cy="513.19" r="0.85" fill="#141414"/>
<circle cx="421.83" cy="518.75" r="0.85" fill="#141414"/>
<circle cx="422.31" cy="517.47" r="0.85" fill="#141414"/>
<circle cx="423.93" cy="514.95" r="0.85" fill="#141414"/>
<circle cx="412.07" cy="519.09" r="0.85" fill="#141414"/>
<circle cx="427.14" cy="507.76" r="0.85" fill="#141414"/>
<circle cx="403.44" cy="507.86" r="0.85" fill="#141414"/>
<circle cx="404.91" cy="508.63" r="0.85" fill="#141414"/>
<circle cx="423.34" cy="508.99" r="0.85" fill="#141414"/>
<circle cx="426.54" cy="511.84" r="0.85" fill="#141414"/>
<circle cx="408.97" cy="508.16" r="0.85" fill="#141414"/>
<circle cx="414.01" cy="511.31" r="0.85" fill="#141414"/>
<circle cx="417.53" cy="507.1" r="0.85" fill="#141414"/>
<circle cx="402.85" cy="511.83" r="0.85" fill="#141414"/>
<circle cx="423.28" cy="511.85" r="0.85" fill="#141414"/>
<circle cx="416.82" cy="511.36" r="0.85" fill="#141414"/>
<circle cx="420.3" cy="510.68" r="0.85" fill="#141414"/>
<circle cx="406.08" cy="510.09" r="0.85" fill="#141414"/>
<circle cx="416.41" cy="506.86" r="0.85" fill="#141414"/>
<circle cx="423.47" cy="508.07" r="0.85" fill="#141414"/>
<circle cx="402.66" cy="506.38" r="0.85" fill="#141414"/>
<circle cx="406.25" cy="510.34" r="0.85" fill="#141414"/>
<circle cx="425.17" cy="509.3" r="0.85" fill="#141414"/>
<circle cx="403.23" cy="507.34" r="0.85" fill="#141414"/>
<circle cx="423.74" cy="511.38" r="0.85" fill="#141414"/>
<circle cx="412.59" cy="508.14" r="0.85" fill="#141414"/>
<circle cx="406.45" cy="509.47" r="0.85" fill="#141414"/>
<circle cx="412.61" cy="507.05" r="0.85" fill="#141414"/>
<circle cx="418.3" cy="506.87" r="0.85" fill="#141414"/>
<circle cx="410.93" cy="512.08" r="0.85" fill="#141414"/>
<circle cx="425.72" cy="511.16" r="0.85" fill="#141414"/>
<circle cx="403.44" cy="508.73" r="0.85" fill="#141414"/>
<circle cx="411.76" cy="511.47" r="0.85" fill="#141414"/>
<circle cx="417.42" cy="509.52" r="0.85" fill="#141414"/>
<circle cx="411.57" cy="510.04" r="0.85" fill="#141414"/>
<circle cx="417.47" cy="512.54" r="0.85" fill="#141414"/>
<circle cx="402.84" cy="510.39" r="0.85" fill="#141414"/>
<circle cx="428.14" cy="509.57" r="0.85" fill="#141414"/>
<circle cx="406.12" cy="512.28" r="0.85" fill="#141414"/>
<circle cx="409.44" cy="508.19" r="0.85" fill="#141414"/>
<circle cx="415.4" cy="510.79" r="0.85" fill="#141414"/>
<circle cx="417.21" cy="510.86" r="0.85" fill="#141414"/>
<circle cx="427.37" cy="509.12" r="0.85" fill="#141414"/>
<circle cx="403.19" cy="506.09" r="0.85" fill="#141414"/>
<circle cx="422.5" cy="508.91" r="0.85" fill="#141414"/>
<circle cx="422.59" cy="506.87" r="0.85" fill="#141414"/>
<circle cx="418.93" cy="508.44" r="0.85" fill="#141414"/>
<circle cx="409.68" cy="510.2" r="0.85" fill="#141414"/>
<circle cx="425.17" cy="507.38" r="0.85" fill="#141414"/>
<circle cx="420.15" cy="506.44" r="0.85" fill="#141414"/>
<circle cx="422.3" cy="510.59" r="0.85" fill="#141414"/>
<circle cx="415.63" cy="507.74" r="0.85" fill="#141414"/>
<circle cx="411.48" cy="508.42" r="0.85" fill="#141414"/>
<circle cx="412.94" cy="508.98" r="0.85" fill="#141414"/>
<circle cx="411.14" cy="512.18" r="0.85" fill="#141414"/>
<circle cx="428.2" cy="510.46" r="0.85" fill="#141414"/>
<circle cx="411.92" cy="509.43" r="0.85" fill="#141414"/>
<circle cx="408.45" cy="510.98" r="0.85" fill="#141414"/>
<circle cx="405.85" cy="510.29" r="0.85" fill="#141414"/>
<circle cx="425.12" cy="512.53" r="0.85" fill="#141414"/>
<circle cx="413.97" cy="504.02" r="0.85" fill="#141414"/>
<circle cx="410.22" cy="503.51" r="0.85" fill="#141414"/>
<circle cx="404.04" cy="505.29" r="0.85" fill="#141414"/>
<circle cx="410.38" cy="504.7" r="0.85" fill="#141414"/>
<circle cx="416.74" cy="502.8" r="0.85" fill="#141414"/>
<circle cx="411.22" cy="501.86" r="0.85" fill="#141414"/>
<circle cx="417.58" cy="501.94" r="0.85" fill="#141414"/>
<circle cx="406.98" cy="505.68" r="0.85" fill="#141414"/>
<circle cx="428.17" cy="503.45" r="0.85" fill="#141414"/>
<circle cx="422.59" cy="504.45" r="0.85" fill="#141414"/>
<circle cx="417" cy="393.4" r="0.85" fill="#141414"/>
<circle cx="407.6" cy="425.5" r="0.85" fill="#141414"/>
<circle cx="420.4" cy="437.2" r="0.85" fill="#141414"/>
<circle cx="412.2" cy="442.7" r="0.85" fill="#141414"/>
<circle cx="428.6" cy="443.9" r="0.85" fill="#141414"/>
<circle cx="418.5" cy="447.2" r="0.85" fill="#141414"/>
<circle cx="428.4" cy="443.6" r="0.85" fill="#141414"/>
<circle cx="419.4" cy="447.4" r="0.85" fill="#141414"/>
<circle cx="404.6" cy="458.8" r="0.85" fill="#141414"/>
<circle cx="406.8" cy="459.3" r="0.85" fill="#141414"/>
<circle cx="407.6" cy="462" r="0.85" fill="#141414"/>
<circle cx="410.4" cy="464.5" r="0.85" fill="#141414"/>
<circle cx="411.2" cy="474.4" r="0.85" fill="#141414"/>
<circle cx="405.5" cy="481.7" r="0.85" fill="#141414"/>
<circle cx="402.2" cy="485.8" r="0.85" fill="#141414"/>
<circle cx="410.4" cy="492.4" r="0.85" fill="#141414"/>
<circle cx="403.8" cy="493.2" r="0.85" fill="#141414"/>
<circle cx="422.6" cy="494.8" r="0.85" fill="#141414"/>
<circle cx="427.6" cy="498.1" r="0.85" fill="#141414"/>
<circle cx="410.4" cy="498.1" r="0.85" fill="#141414"/>
<circle cx="413.6" cy="501.4" r="0.85" fill="#141414"/>
<circle cx="421" cy="501.4" r="0.85" fill="#141414"/>
<path d="M359.8 525.9 V370.7 H436.5" fill="none" stroke="#3a3a3a" stroke-width="1.1"/>
<path d="M436.5 370.7 V525.9 H359.8" fill="none" stroke="#1a1a1a" stroke-width="1.6"/>
<text transform="translate(357 525) scale(1 1.1)" font-size="9.6" text-anchor="end" font-weight="bold" fill="#4d4d4d" font-family='"Liberation Sans", sans-serif' stroke="#4d4d4d" stroke-width="0.08">0</text>
<text transform="translate(357 495.3) scale(1 1.1)" font-size="9.6" text-anchor="end" font-weight="bold" fill="#4d4d4d" font-family='"Liberation Sans", sans-serif' stroke="#4d4d4d" stroke-width="0.08">100</text>
<text transform="translate(357 465.6) scale(1 1.1)" font-size="9.6" text-anchor="end" font-weight="bold" fill="#4d4d4d" font-family='"Liberation Sans", sans-serif' stroke="#4d4d4d" stroke-width="0.08">200</text>
<text transform="translate(357 435.9) scale(1 1.1)" font-size="9.6" text-anchor="end" font-weight="bold" fill="#4d4d4d" font-family='"Liberation Sans", sans-serif' stroke="#4d4d4d" stroke-width="0.08">300</text>
<text transform="translate(357 406.2) scale(1 1.1)" font-size="9.6" text-anchor="end" font-weight="bold" fill="#4d4d4d" font-family='"Liberation Sans", sans-serif' stroke="#4d4d4d" stroke-width="0.08">400</text>
<text transform="translate(357 376.5) scale(1 1.1)" font-size="9.6" text-anchor="end" font-weight="bold" fill="#4d4d4d" font-family='"Liberation Sans", sans-serif' stroke="#4d4d4d" stroke-width="0.08">500</text>
<text transform="translate(380.8 537.2) scale(1 1.08)" font-size="10.6" text-anchor="middle" font-weight="bold" fill="#4d4d4d" font-family='"Liberation Sans", sans-serif' stroke="#4d4d4d" stroke-width="0.08">BOT</text>
<text transform="translate(415.4 537.2) scale(1 1.08)" font-size="10.6" text-anchor="middle" font-weight="bold" fill="#4d4d4d" font-family='"Liberation Sans", sans-serif' stroke="#4d4d4d" stroke-width="0.08">OC</text>
<text transform="translate(364.9 355.7) scale(1 1.06)" font-size="10.7" text-anchor="start" font-weight="bold" fill="#000" font-family='"Liberation Serif", serif' >Carbohydrate</text>
<text transform="translate(401.8 365.8) scale(1 1.06)" font-size="10.7" text-anchor="middle" font-weight="bold" fill="#000" font-family='"Liberation Serif", serif' >antigen 125</text>
<rect x="459.8" y="371.3" width="76.4" height="155.1" fill="#ffffff" stroke="none" stroke-width="0" />
<line x1="459.8" y1="502.18" x2="536.2" y2="502.18" stroke="#e6e6e6" stroke-width="0.7"/>
<line x1="459.8" y1="465.33" x2="536.2" y2="465.33" stroke="#e6e6e6" stroke-width="0.7"/>
<line x1="459.8" y1="428.48" x2="536.2" y2="428.48" stroke="#e6e6e6" stroke-width="0.7"/>
<line x1="459.8" y1="391.62" x2="536.2" y2="391.62" stroke="#e6e6e6" stroke-width="0.7"/>
<line x1="459.8" y1="520.6" x2="536.2" y2="520.6" stroke="#dcdcdc" stroke-width="1.0"/>
<line x1="459.8" y1="483.75" x2="536.2" y2="483.75" stroke="#dcdcdc" stroke-width="1.0"/>
<line x1="459.8" y1="446.9" x2="536.2" y2="446.9" stroke="#dcdcdc" stroke-width="1.0"/>
<line x1="459.8" y1="410.05" x2="536.2" y2="410.05" stroke="#dcdcdc" stroke-width="1.0"/>
<line x1="459.8" y1="373.2" x2="536.2" y2="373.2" stroke="#dcdcdc" stroke-width="1.0"/>
<line x1="480.4" y1="371.3" x2="480.4" y2="526.4" stroke="#dcdcdc" stroke-width="1.0"/>
<line x1="515.4" y1="371.3" x2="515.4" y2="526.4" stroke="#dcdcdc" stroke-width="1.0"/>
<line x1="480.4" y1="495.32" x2="480.4" y2="471.96" stroke="#333" stroke-width="0.9"/>
<line x1="480.4" y1="514.48" x2="480.4" y2="520.23" stroke="#333" stroke-width="0.9"/>
<rect x="467" y="495.32" width="26.8" height="19.16" fill="#996ab0" stroke="#2a2a2a" stroke-width="0.9" />
<line x1="467" y1="508.37" x2="493.8" y2="508.37" stroke="#1a1a1a" stroke-width="1.5"/>
<circle cx="480.4" cy="379.1" r="1.9" fill="#1e1e1e"/>
<circle cx="480.4" cy="391.62" r="1.9" fill="#1e1e1e"/>
<circle cx="480.4" cy="393.47" r="1.9" fill="#1e1e1e"/>
<circle cx="480.4" cy="395.31" r="1.9" fill="#1e1e1e"/>
<circle cx="480.4" cy="443.22" r="1.9" fill="#1e1e1e"/>
<circle cx="480.4" cy="446.16" r="1.9" fill="#1e1e1e"/>
<circle cx="480.4" cy="446.9" r="1.9" fill="#1e1e1e"/>
<circle cx="480.4" cy="451.69" r="1.9" fill="#1e1e1e"/>
<circle cx="480.4" cy="457.59" r="1.9" fill="#1e1e1e"/>
<circle cx="480.4" cy="462.75" r="1.9" fill="#1e1e1e"/>
<line x1="515.4" y1="503.28" x2="515.4" y2="487.44" stroke="#333" stroke-width="0.9"/>
<line x1="515.4" y1="514.48" x2="515.4" y2="520.23" stroke="#333" stroke-width="0.9"/>
<rect x="502" y="503.28" width="26.8" height="11.2" fill="#f9ed74" stroke="#2a2a2a" stroke-width="0.9" />
<line x1="502" y1="509.03" x2="528.8" y2="509.03" stroke="#1a1a1a" stroke-width="1.5"/>
<circle cx="515.4" cy="395.31" r="1.9" fill="#1e1e1e"/>
<circle cx="515.4" cy="412.26" r="1.9" fill="#1e1e1e"/>
<circle cx="515.4" cy="424.05" r="1.9" fill="#1e1e1e"/>
<circle cx="515.4" cy="425.53" r="1.9" fill="#1e1e1e"/>
<circle cx="515.4" cy="427" r="1.9" fill="#1e1e1e"/>
<circle cx="515.4" cy="428.48" r="1.9" fill="#1e1e1e"/>
<circle cx="515.4" cy="432.9" r="1.9" fill="#1e1e1e"/>
<circle cx="515.4" cy="440.27" r="1.9" fill="#1e1e1e"/>
<circle cx="515.4" cy="441" r="1.9" fill="#1e1e1e"/>
<circle cx="515.4" cy="454.27" r="1.9" fill="#1e1e1e"/>
<circle cx="515.4" cy="471.22" r="1.9" fill="#1e1e1e"/>
<circle cx="515.4" cy="474.17" r="1.9" fill="#1e1e1e"/>
<circle cx="515.4" cy="476.67" r="1.9" fill="#1e1e1e"/>
<circle cx="515.4" cy="478.37" r="1.9" fill="#1e1e1e"/>
<circle cx="515.4" cy="480.43" r="1.9" fill="#1e1e1e"/>
<circle cx="515.4" cy="482.5" r="1.9" fill="#1e1e1e"/>
<circle cx="490.27" cy="506.28" r="0.85" fill="#141414"/>
<circle cx="479.99" cy="513.18" r="0.85" fill="#141414"/>
<circle cx="474.39" cy="497.25" r="0.85" fill="#141414"/>
<circle cx="467.62" cy="509.55" r="0.85" fill="#141414"/>
<circle cx="474.18" cy="511.33" r="0.85" fill="#141414"/>
<circle cx="472.85" cy="500.99" r="0.85" fill="#141414"/>
<circle cx="472.37" cy="506.83" r="0.85" fill="#141414"/>
<circle cx="490.16" cy="502.93" r="0.85" fill="#141414"/>
<circle cx="472.27" cy="502.06" r="0.85" fill="#141414"/>
<circle cx="492.81" cy="500.42" r="0.85" fill="#141414"/>
<circle cx="469.13" cy="502.97" r="0.85" fill="#141414"/>
<circle cx="490.46" cy="498.97" r="0.85" fill="#141414"/>
<circle cx="470.66" cy="507.95" r="0.85" fill="#141414"/>
<circle cx="481.39" cy="510.88" r="0.85" fill="#141414"/>
<circle cx="484.15" cy="497.71" r="0.85" fill="#141414"/>
<circle cx="472.69" cy="496.8" r="0.85" fill="#141414"/>
<circle cx="487.08" cy="508.22" r="0.85" fill="#141414"/>
<circle cx="477.86" cy="502.05" r="0.85" fill="#141414"/>
<circle cx="476.05" cy="501.47" r="0.85" fill="#141414"/>
<circle cx="478.1" cy="513.38" r="0.85" fill="#141414"/>
<circle cx="483.79" cy="513.61" r="0.85" fill="#141414"/>
<circle cx="480.25" cy="508.07" r="0.85" fill="#141414"/>
<circle cx="473.89" cy="503.03" r="0.85" fill="#141414"/>
<circle cx="467.36" cy="505.6" r="0.85" fill="#141414"/>
<circle cx="482.12" cy="496.75" r="0.85" fill="#141414"/>
<circle cx="468.5" cy="495.56" r="0.85" fill="#141414"/>
<circle cx="486.41" cy="502.72" r="0.85" fill="#141414"/>
<circle cx="469.5" cy="508.18" r="0.85" fill="#141414"/>
<circle cx="470.82" cy="511.49" r="0.85" fill="#141414"/>
<circle cx="469.41" cy="499.78" r="0.85" fill="#141414"/>
<circle cx="478.34" cy="498.88" r="0.85" fill="#141414"/>
<circle cx="482.77" cy="504.16" r="0.85" fill="#141414"/>
<circle cx="484.62" cy="503.85" r="0.85" fill="#141414"/>
<circle cx="475.87" cy="502.96" r="0.85" fill="#141414"/>
<circle cx="473.91" cy="500.28" r="0.85" fill="#141414"/>
<circle cx="487.46" cy="500.85" r="0.85" fill="#141414"/>
<circle cx="475.29" cy="499.61" r="0.85" fill="#141414"/>
<circle cx="493.19" cy="499.68" r="0.85" fill="#141414"/>
<circle cx="474.46" cy="505.8" r="0.85" fill="#141414"/>
<circle cx="492.22" cy="504.45" r="0.85" fill="#141414"/>
<circle cx="467.24" cy="511.96" r="0.85" fill="#141414"/>
<circle cx="484.56" cy="505.37" r="0.85" fill="#141414"/>
<circle cx="476.71" cy="499.65" r="0.85" fill="#141414"/>
<circle cx="473.11" cy="495.52" r="0.85" fill="#141414"/>
<circle cx="469.41" cy="499.99" r="0.85" fill="#141414"/>
<circle cx="470.6" cy="513.95" r="0.85" fill="#141414"/>
<circle cx="480.45" cy="513.33" r="0.85" fill="#141414"/>
<circle cx="471.87" cy="503.84" r="0.85" fill="#141414"/>
<circle cx="476.8" cy="496.48" r="0.85" fill="#141414"/>
<circle cx="471.76" cy="511.62" r="0.85" fill="#141414"/>
<circle cx="491.7" cy="500.35" r="0.85" fill="#141414"/>
<circle cx="467.78" cy="511.38" r="0.85" fill="#141414"/>
<circle cx="473.5" cy="499.57" r="0.85" fill="#141414"/>
<circle cx="480.37" cy="495.66" r="0.85" fill="#141414"/>
<circle cx="476.23" cy="502.29" r="0.85" fill="#141414"/>
<circle cx="479.33" cy="499.14" r="0.85" fill="#141414"/>
<circle cx="491.21" cy="508.28" r="0.85" fill="#141414"/>
<circle cx="486.65" cy="512.42" r="0.85" fill="#141414"/>
<circle cx="484.3" cy="513.23" r="0.85" fill="#141414"/>
<circle cx="490.16" cy="506.78" r="0.85" fill="#141414"/>
<circle cx="482.12" cy="513.33" r="0.85" fill="#141414"/>
<circle cx="491.63" cy="506.63" r="0.85" fill="#141414"/>
<circle cx="483.81" cy="514.82" r="0.85" fill="#141414"/>
<circle cx="473.75" cy="519.23" r="0.85" fill="#141414"/>
<circle cx="478.63" cy="519" r="0.85" fill="#141414"/>
<circle cx="472.45" cy="519.18" r="0.85" fill="#141414"/>
<circle cx="484.22" cy="515.96" r="0.85" fill="#141414"/>
<circle cx="493.65" cy="518.77" r="0.85" fill="#141414"/>
<circle cx="482.26" cy="519.27" r="0.85" fill="#141414"/>
<circle cx="490.13" cy="519.64" r="0.85" fill="#141414"/>
<circle cx="474.16" cy="515.28" r="0.85" fill="#141414"/>
<circle cx="489.05" cy="516" r="0.85" fill="#141414"/>
<circle cx="475.88" cy="518.87" r="0.85" fill="#141414"/>
<circle cx="490.88" cy="517.63" r="0.85" fill="#141414"/>
<circle cx="485.3" cy="519.61" r="0.85" fill="#141414"/>
<circle cx="479.14" cy="516.94" r="0.85" fill="#141414"/>
<circle cx="490.66" cy="517.06" r="0.85" fill="#141414"/>
<circle cx="490.68" cy="519.32" r="0.85" fill="#141414"/>
<circle cx="487.9" cy="518.4" r="0.85" fill="#141414"/>
<circle cx="471.89" cy="515.32" r="0.85" fill="#141414"/>
<circle cx="493.66" cy="515.32" r="0.85" fill="#141414"/>
<circle cx="467.65" cy="518.78" r="0.85" fill="#141414"/>
<circle cx="493.11" cy="519.92" r="0.85" fill="#141414"/>
<circle cx="491.43" cy="520.54" r="0.85" fill="#141414"/>
<circle cx="486.73" cy="519.68" r="0.85" fill="#141414"/>
<circle cx="471.52" cy="520" r="0.85" fill="#141414"/>
<circle cx="469.42" cy="516.42" r="0.85" fill="#141414"/>
<circle cx="491.62" cy="518.52" r="0.85" fill="#141414"/>
<circle cx="490.64" cy="516.22" r="0.85" fill="#141414"/>
<circle cx="467.88" cy="514.61" r="0.85" fill="#141414"/>
<circle cx="488.23" cy="519.16" r="0.85" fill="#141414"/>
<circle cx="468.02" cy="516.38" r="0.85" fill="#141414"/>
<circle cx="473.21" cy="517.51" r="0.85" fill="#141414"/>
<circle cx="469.81" cy="517.97" r="0.85" fill="#141414"/>
<circle cx="493.55" cy="520.48" r="0.85" fill="#141414"/>
<circle cx="490.55" cy="518.66" r="0.85" fill="#141414"/>
<circle cx="480.06" cy="519.86" r="0.85" fill="#141414"/>
<circle cx="478.48" cy="519.77" r="0.85" fill="#141414"/>
<circle cx="485.37" cy="519.51" r="0.85" fill="#141414"/>
<circle cx="486.78" cy="519.7" r="0.85" fill="#141414"/>
<circle cx="470.01" cy="517.54" r="0.85" fill="#141414"/>
<circle cx="480.3" cy="518.44" r="0.85" fill="#141414"/>
<circle cx="476.37" cy="494.17" r="0.85" fill="#141414"/>
<circle cx="492.93" cy="495.05" r="0.85" fill="#141414"/>
<circle cx="486.6" cy="494.21" r="0.85" fill="#141414"/>
<circle cx="471.75" cy="494.98" r="0.85" fill="#141414"/>
<circle cx="468.85" cy="494.99" r="0.85" fill="#141414"/>
<circle cx="480.63" cy="495.27" r="0.85" fill="#141414"/>
<circle cx="481.92" cy="494.81" r="0.85" fill="#141414"/>
<circle cx="467.28" cy="494.87" r="0.85" fill="#141414"/>
<circle cx="484.1" cy="378.8" r="0.85" fill="#141414"/>
<circle cx="475.2" cy="393.1" r="0.85" fill="#141414"/>
<circle cx="477.4" cy="394.6" r="0.85" fill="#141414"/>
<circle cx="487.6" cy="391.6" r="0.85" fill="#141414"/>
<circle cx="474.9" cy="443.1" r="0.85" fill="#141414"/>
<circle cx="475.7" cy="443.3" r="0.85" fill="#141414"/>
<circle cx="486.2" cy="451.5" r="0.85" fill="#141414"/>
<circle cx="477.6" cy="457.7" r="0.85" fill="#141414"/>
<circle cx="467" cy="462.1" r="0.85" fill="#141414"/>
<circle cx="469.1" cy="475.2" r="0.85" fill="#141414"/>
<circle cx="472.7" cy="473.6" r="0.85" fill="#141414"/>
<circle cx="477.6" cy="474.4" r="0.85" fill="#141414"/>
<circle cx="488.8" cy="474.7" r="0.85" fill="#141414"/>
<circle cx="474.4" cy="480.1" r="0.85" fill="#141414"/>
<circle cx="491.6" cy="480.1" r="0.85" fill="#141414"/>
<circle cx="472.7" cy="484.2" r="0.85" fill="#141414"/>
<circle cx="490" cy="485" r="0.85" fill="#141414"/>
<circle cx="482.5" cy="488.3" r="0.85" fill="#141414"/>
<circle cx="469.5" cy="490.7" r="0.85" fill="#141414"/>
<circle cx="490.7" cy="487.5" r="0.85" fill="#141414"/>
<circle cx="484.2" cy="492.4" r="0.85" fill="#141414"/>
<circle cx="519.5" cy="506.77" r="0.85" fill="#141414"/>
<circle cx="516.71" cy="508.39" r="0.85" fill="#141414"/>
<circle cx="528.33" cy="506.75" r="0.85" fill="#141414"/>
<circle cx="521.24" cy="504.69" r="0.85" fill="#141414"/>
<circle cx="510.53" cy="510.01" r="0.85" fill="#141414"/>
<circle cx="528.07" cy="509.79" r="0.85" fill="#141414"/>
<circle cx="512.33" cy="510.15" r="0.85" fill="#141414"/>
<circle cx="505.83" cy="509.89" r="0.85" fill="#141414"/>
<circle cx="502.14" cy="503.3" r="0.85" fill="#141414"/>
<circle cx="526.82" cy="507.67" r="0.85" fill="#141414"/>
<circle cx="518.37" cy="511.63" r="0.85" fill="#141414"/>
<circle cx="508.45" cy="510.26" r="0.85" fill="#141414"/>
<circle cx="505.11" cy="512.26" r="0.85" fill="#141414"/>
<circle cx="523.01" cy="505.04" r="0.85" fill="#141414"/>
<circle cx="503.33" cy="504.31" r="0.85" fill="#141414"/>
<circle cx="510.69" cy="506.71" r="0.85" fill="#141414"/>
<circle cx="516.71" cy="507.24" r="0.85" fill="#141414"/>
<circle cx="528.04" cy="510.95" r="0.85" fill="#141414"/>
<circle cx="522" cy="514.47" r="0.85" fill="#141414"/>
<circle cx="515.67" cy="504.92" r="0.85" fill="#141414"/>
<circle cx="528.66" cy="507.85" r="0.85" fill="#141414"/>
<circle cx="518.87" cy="511.86" r="0.85" fill="#141414"/>
<circle cx="512.15" cy="506.16" r="0.85" fill="#141414"/>
<circle cx="512.55" cy="506.5" r="0.85" fill="#141414"/>
<circle cx="518.42" cy="508.59" r="0.85" fill="#141414"/>
<circle cx="510.63" cy="506.9" r="0.85" fill="#141414"/>
<circle cx="516.55" cy="507.44" r="0.85" fill="#141414"/>
<circle cx="518.42" cy="511.98" r="0.85" fill="#141414"/>
<circle cx="526.35" cy="511.52" r="0.85" fill="#141414"/>
<circle cx="521.34" cy="509.18" r="0.85" fill="#141414"/>
<circle cx="514.77" cy="508.63" r="0.85" fill="#141414"/>
<circle cx="505.81" cy="512" r="0.85" fill="#141414"/>
<circle cx="516.17" cy="504.09" r="0.85" fill="#141414"/>
<circle cx="516.14" cy="508.61" r="0.85" fill="#141414"/>
<circle cx="508.4" cy="505.37" r="0.85" fill="#141414"/>
<circle cx="524.03" cy="512.55" r="0.85" fill="#141414"/>
<circle cx="519.17" cy="509.33" r="0.85" fill="#141414"/>
<circle cx="525.96" cy="505.21" r="0.85" fill="#141414"/>
<circle cx="503.16" cy="504.76" r="0.85" fill="#141414"/>
<circle cx="524.3" cy="510.21" r="0.85" fill="#141414"/>
<circle cx="505.3" cy="505.32" r="0.85" fill="#141414"/>
<circle cx="508.74" cy="512.76" r="0.85" fill="#141414"/>
<circle cx="511.56" cy="513.33" r="0.85" fill="#141414"/>
<circle cx="515.97" cy="505.48" r="0.85" fill="#141414"/>
<circle cx="504.36" cy="509.41" r="0.85" fill="#141414"/>
<circle cx="528.72" cy="510.05" r="0.85" fill="#141414"/>
<circle cx="514.04" cy="506.7" r="0.85" fill="#141414"/>
<circle cx="523.39" cy="509.12" r="0.85" fill="#141414"/>
<circle cx="506.02" cy="505.98" r="0.85" fill="#141414"/>
<circle cx="511.83" cy="506.86" r="0.85" fill="#141414"/>
<circle cx="508.37" cy="508.65" r="0.85" fill="#141414"/>
<circle cx="511.11" cy="510.33" r="0.85" fill="#141414"/>
<circle cx="502.48" cy="510.21" r="0.85" fill="#141414"/>
<circle cx="517.29" cy="512.23" r="0.85" fill="#141414"/>
<circle cx="506.78" cy="513.84" r="0.85" fill="#141414"/>
<circle cx="509.36" cy="506.44" r="0.85" fill="#141414"/>
<circle cx="508.48" cy="510.85" r="0.85" fill="#141414"/>
<circle cx="504.45" cy="505.14" r="0.85" fill="#141414"/>
<circle cx="525.02" cy="507.36" r="0.85" fill="#141414"/>
<circle cx="513.34" cy="512.22" r="0.85" fill="#141414"/>
<circle cx="518.56" cy="505.61" r="0.85" fill="#141414"/>
<circle cx="503.18" cy="510.32" r="0.85" fill="#141414"/>
<circle cx="511.84" cy="509.53" r="0.85" fill="#141414"/>
<circle cx="509.91" cy="506.5" r="0.85" fill="#141414"/>
<circle cx="519.37" cy="509.91" r="0.85" fill="#141414"/>
<circle cx="511.44" cy="505.4" r="0.85" fill="#141414"/>
<circle cx="517.51" cy="510.17" r="0.85" fill="#141414"/>
<circle cx="507.14" cy="504.12" r="0.85" fill="#141414"/>
<circle cx="521.08" cy="503.6" r="0.85" fill="#141414"/>
<circle cx="519.84" cy="510.31" r="0.85" fill="#141414"/>
<circle cx="503.9" cy="518.58" r="0.85" fill="#141414"/>
<circle cx="512.17" cy="515.98" r="0.85" fill="#141414"/>
<circle cx="515.31" cy="517.38" r="0.85" fill="#141414"/>
<circle cx="522.29" cy="515.09" r="0.85" fill="#141414"/>
<circle cx="517.89" cy="520.44" r="0.85" fill="#141414"/>
<circle cx="514.39" cy="517.77" r="0.85" fill="#141414"/>
<circle cx="513.12" cy="515.46" r="0.85" fill="#141414"/>
<circle cx="525.86" cy="517.7" r="0.85" fill="#141414"/>
<circle cx="515.17" cy="517.91" r="0.85" fill="#141414"/>
<circle cx="524.1" cy="517.47" r="0.85" fill="#141414"/>
<circle cx="521.84" cy="516.5" r="0.85" fill="#141414"/>
<circle cx="503.09" cy="518.14" r="0.85" fill="#141414"/>
<circle cx="516.84" cy="516.44" r="0.85" fill="#141414"/>
<circle cx="522.63" cy="515.89" r="0.85" fill="#141414"/>
<circle cx="507.91" cy="519.88" r="0.85" fill="#141414"/>
<circle cx="523.91" cy="520.13" r="0.85" fill="#141414"/>
<circle cx="504.37" cy="519.98" r="0.85" fill="#141414"/>
<circle cx="517.13" cy="515.99" r="0.85" fill="#141414"/>
<circle cx="520.25" cy="520.26" r="0.85" fill="#141414"/>
<circle cx="514.94" cy="516.25" r="0.85" fill="#141414"/>
<circle cx="520.52" cy="520.26" r="0.85" fill="#141414"/>
<circle cx="517.65" cy="518.04" r="0.85" fill="#141414"/>
<circle cx="523.89" cy="514.49" r="0.85" fill="#141414"/>
<circle cx="505.9" cy="515.27" r="0.85" fill="#141414"/>
<circle cx="515.89" cy="518.55" r="0.85" fill="#141414"/>
<circle cx="528.5" cy="520.56" r="0.85" fill="#141414"/>
<circle cx="509.03" cy="518.92" r="0.85" fill="#141414"/>
<circle cx="508.83" cy="518.69" r="0.85" fill="#141414"/>
<circle cx="516.89" cy="515.35" r="0.85" fill="#141414"/>
<circle cx="513.26" cy="517.47" r="0.85" fill="#141414"/>
<circle cx="510.16" cy="520.29" r="0.85" fill="#141414"/>
<circle cx="523.49" cy="515.3" r="0.85" fill="#141414"/>
<circle cx="508.89" cy="515.36" r="0.85" fill="#141414"/>
<circle cx="503.4" cy="519.36" r="0.85" fill="#141414"/>
<circle cx="512.02" cy="517.32" r="0.85" fill="#141414"/>
<circle cx="515.1" cy="517.76" r="0.85" fill="#141414"/>
<circle cx="511.8" cy="517.03" r="0.85" fill="#141414"/>
<circle cx="507.37" cy="515.7" r="0.85" fill="#141414"/>
<circle cx="516.9" cy="514.98" r="0.85" fill="#141414"/>
<circle cx="510.42" cy="520.29" r="0.85" fill="#141414"/>
<circle cx="512.96" cy="517.34" r="0.85" fill="#141414"/>
<circle cx="510.67" cy="517.14" r="0.85" fill="#141414"/>
<circle cx="523.34" cy="518.93" r="0.85" fill="#141414"/>
<circle cx="521.04" cy="518.82" r="0.85" fill="#141414"/>
<circle cx="517.87" cy="515.69" r="0.85" fill="#141414"/>
<circle cx="527.05" cy="517.82" r="0.85" fill="#141414"/>
<circle cx="525.53" cy="517.88" r="0.85" fill="#141414"/>
<circle cx="513.62" cy="520.25" r="0.85" fill="#141414"/>
<circle cx="503.31" cy="516.69" r="0.85" fill="#141414"/>
<circle cx="503.93" cy="515.32" r="0.85" fill="#141414"/>
<circle cx="506.83" cy="516.95" r="0.85" fill="#141414"/>
<circle cx="517.04" cy="514.96" r="0.85" fill="#141414"/>
<circle cx="515.35" cy="515.7" r="0.85" fill="#141414"/>
<circle cx="520.09" cy="516.48" r="0.85" fill="#141414"/>
<circle cx="507.66" cy="518.8" r="0.85" fill="#141414"/>
<circle cx="505.91" cy="501.74" r="0.85" fill="#141414"/>
<circle cx="507.55" cy="501.59" r="0.85" fill="#141414"/>
<circle cx="504.55" cy="503.09" r="0.85" fill="#141414"/>
<circle cx="527.48" cy="501.84" r="0.85" fill="#141414"/>
<circle cx="519.66" cy="502.52" r="0.85" fill="#141414"/>
<circle cx="526.28" cy="502.81" r="0.85" fill="#141414"/>
<circle cx="506.15" cy="502.02" r="0.85" fill="#141414"/>
<circle cx="520.64" cy="503.18" r="0.85" fill="#141414"/>
<circle cx="524.41" cy="503.2" r="0.85" fill="#141414"/>
<circle cx="508.24" cy="502.74" r="0.85" fill="#141414"/>
<circle cx="510.54" cy="493.29" r="0.85" fill="#141414"/>
<circle cx="506.13" cy="493.59" r="0.85" fill="#141414"/>
<circle cx="510.69" cy="488.67" r="0.85" fill="#141414"/>
<circle cx="506.07" cy="489.66" r="0.85" fill="#141414"/>
<circle cx="528.27" cy="490.24" r="0.85" fill="#141414"/>
<circle cx="502.88" cy="495.96" r="0.85" fill="#141414"/>
<circle cx="519.17" cy="496.12" r="0.85" fill="#141414"/>
<circle cx="516.63" cy="498.31" r="0.85" fill="#141414"/>
<circle cx="514.45" cy="500.13" r="0.85" fill="#141414"/>
<circle cx="513.52" cy="491.24" r="0.85" fill="#141414"/>
<circle cx="505.07" cy="491.93" r="0.85" fill="#141414"/>
<circle cx="505.27" cy="489.84" r="0.85" fill="#141414"/>
<circle cx="528.7" cy="488.51" r="0.85" fill="#141414"/>
<circle cx="516.11" cy="488.28" r="0.85" fill="#141414"/>
<circle cx="502.5" cy="395.2" r="0.85" fill="#141414"/>
<circle cx="502.5" cy="411.8" r="0.85" fill="#141414"/>
<circle cx="503.3" cy="426" r="0.85" fill="#141414"/>
<circle cx="510" cy="428" r="0.85" fill="#141414"/>
<circle cx="523.7" cy="424" r="0.85" fill="#141414"/>
<circle cx="517.7" cy="432.5" r="0.85" fill="#141414"/>
<circle cx="527.9" cy="433" r="0.85" fill="#141414"/>
<circle cx="526" cy="440.4" r="0.85" fill="#141414"/>
<circle cx="502.5" cy="454.4" r="0.85" fill="#141414"/>
<circle cx="501.4" cy="474.4" r="0.85" fill="#141414"/>
<circle cx="508.7" cy="475.7" r="0.85" fill="#141414"/>
<circle cx="521.8" cy="471.1" r="0.85" fill="#141414"/>
<circle cx="525.1" cy="479.3" r="0.85" fill="#141414"/>
<circle cx="503" cy="482.9" r="0.85" fill="#141414"/>
<circle cx="507.1" cy="490" r="0.85" fill="#141414"/>
<circle cx="512" cy="492.4" r="0.85" fill="#141414"/>
<circle cx="502.2" cy="495.6" r="0.85" fill="#141414"/>
<circle cx="520.2" cy="494.8" r="0.85" fill="#141414"/>
<circle cx="527.6" cy="486.6" r="0.85" fill="#141414"/>
<circle cx="523.5" cy="489.1" r="0.85" fill="#141414"/>
<circle cx="505.5" cy="493.2" r="0.85" fill="#141414"/>
<circle cx="508.7" cy="496.5" r="0.85" fill="#141414"/>
<circle cx="520.2" cy="499.7" r="0.85" fill="#141414"/>
<path d="M459.8 526.4 V371.3 H536.2" fill="none" stroke="#3a3a3a" stroke-width="1.1"/>
<path d="M536.2 371.3 V526.4 H459.8" fill="none" stroke="#1a1a1a" stroke-width="1.6"/>
<text transform="translate(457.8 525.6) scale(1 1.1)" font-size="9.6" text-anchor="end" font-weight="bold" fill="#4d4d4d" font-family='"Liberation Sans", sans-serif' stroke="#4d4d4d" stroke-width="0.08">0</text>
<text transform="translate(457.8 488.75) scale(1 1.1)" font-size="9.6" text-anchor="end" font-weight="bold" fill="#4d4d4d" font-family='"Liberation Sans", sans-serif' stroke="#4d4d4d" stroke-width="0.08">50</text>
<text transform="translate(457.8 451.9) scale(1 1.1)" font-size="9.6" text-anchor="end" font-weight="bold" fill="#4d4d4d" font-family='"Liberation Sans", sans-serif' stroke="#4d4d4d" stroke-width="0.08">100</text>
<text transform="translate(457.8 415.05) scale(1 1.1)" font-size="9.6" text-anchor="end" font-weight="bold" fill="#4d4d4d" font-family='"Liberation Sans", sans-serif' stroke="#4d4d4d" stroke-width="0.08">150</text>
<text transform="translate(457.8 378.2) scale(1 1.1)" font-size="9.6" text-anchor="end" font-weight="bold" fill="#4d4d4d" font-family='"Liberation Sans", sans-serif' stroke="#4d4d4d" stroke-width="0.08">200</text>
<text transform="translate(480.4 539) scale(1 1.08)" font-size="10.6" text-anchor="middle" font-weight="bold" fill="#4d4d4d" font-family='"Liberation Sans", sans-serif' stroke="#4d4d4d" stroke-width="0.08">BOT</text>
<text transform="translate(515.4 539) scale(1 1.08)" font-size="10.6" text-anchor="middle" font-weight="bold" fill="#4d4d4d" font-family='"Liberation Sans", sans-serif' stroke="#4d4d4d" stroke-width="0.08">OC</text>
<text transform="translate(491.7 354) scale(1 1.06)" font-size="10.7" text-anchor="middle" font-weight="bold" fill="#000" font-family='"Liberation Serif", serif' >Carbohydrate</text>
<text transform="translate(494.2 366) scale(1 1.06)" font-size="10.7" text-anchor="middle" font-weight="bold" fill="#000" font-family='"Liberation Serif", serif' >antigen 19-9</text>
<text x="9.2" y="361.7" font-size="31" text-anchor="start" font-weight="bold" fill="#000" font-family='"Liberation Serif", serif' >C</text>
</svg>
</body></html>
